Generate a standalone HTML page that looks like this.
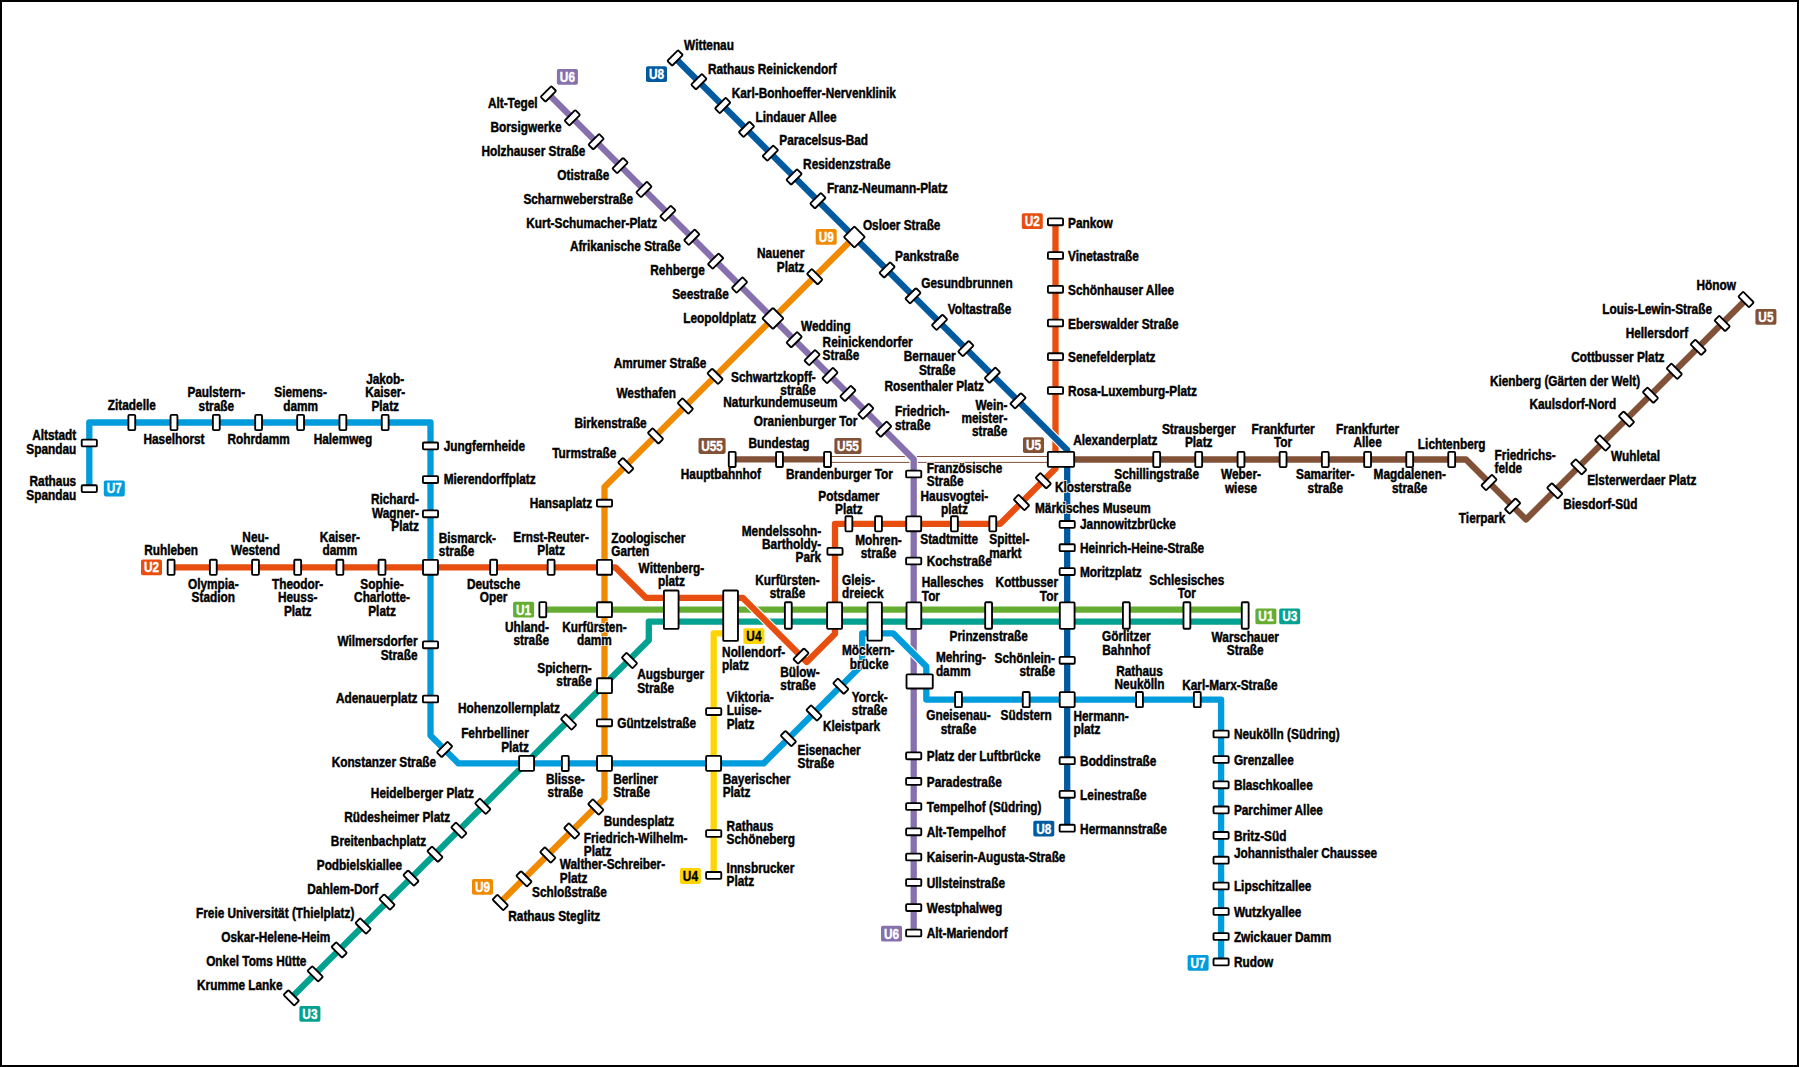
<!DOCTYPE html>
<html><head><meta charset="utf-8"><title>Berlin U-Bahn</title>
<style>
html,body{margin:0;padding:0;background:#fff;}
body{width:1799px;height:1067px;overflow:hidden;}
svg{display:block;}
text{font-family:"Liberation Sans",sans-serif;font-weight:bold;font-size:14px;fill:#000;stroke:#000;stroke-width:0.45px;}
.halo text{fill:#fff;stroke:#fff;stroke-width:2.2px;stroke-linejoin:round;}
</style></head><body>
<svg width="1799" height="1067" viewBox="0 0 1799 1067">
<rect x="1" y="1" width="1797" height="1065" fill="#fff" stroke="#000" stroke-width="2"/>
<rect x="827" y="456.5" width="222" height="5.9" fill="#fff" stroke="#815238" stroke-width="1.0"/>
<path d="M1061.00 459.50 L1466.00 459.50 L1526.00 519.50 L1746.10 299.40" stroke="#fff" stroke-width="8.50" fill="none" stroke-linejoin="round" stroke-linecap="butt"/>
<path d="M1061.00 459.50 L1466.00 459.50 L1526.00 519.50 L1746.10 299.40" stroke="#815238" stroke-width="6.30" fill="none" stroke-linejoin="round" stroke-linecap="butt"/>
<path d="M732.20 459.40 L827.50 459.40" stroke="#fff" stroke-width="8.50" fill="none" stroke-linejoin="round" stroke-linecap="butt"/>
<path d="M732.20 459.40 L827.50 459.40" stroke="#815238" stroke-width="6.30" fill="none" stroke-linejoin="round" stroke-linecap="butt"/>
<path d="M730.00 633.30 L713.70 633.30 L713.70 875.40" stroke="#fff" stroke-width="8.50" fill="none" stroke-linejoin="round" stroke-linecap="butt"/>
<path d="M730.00 633.30 L713.70 633.30 L713.70 875.40" stroke="#FFD403" stroke-width="6.30" fill="none" stroke-linejoin="round" stroke-linecap="butt"/>
<path d="M854.40 237.00 L604.50 486.90 L604.50 798.30 L500.30 902.50" stroke="#fff" stroke-width="8.50" fill="none" stroke-linejoin="round" stroke-linecap="butt"/>
<path d="M854.40 237.00 L604.50 486.90 L604.50 798.30 L500.30 902.50" stroke="#F08A00" stroke-width="6.30" fill="none" stroke-linejoin="round" stroke-linecap="butt"/>
<path d="M542.80 609.70 L1245.20 609.70" stroke="#fff" stroke-width="8.50" fill="none" stroke-linejoin="round" stroke-linecap="butt"/>
<path d="M542.80 609.70 L1245.20 609.70" stroke="#64AD30" stroke-width="6.30" fill="none" stroke-linejoin="round" stroke-linecap="butt"/>
<path d="M291.30 997.80 L648.80 640.30 L648.80 621.60 L1245.20 621.60" stroke="#fff" stroke-width="8.50" fill="none" stroke-linejoin="round" stroke-linecap="butt"/>
<path d="M291.30 997.80 L648.80 640.30 L648.80 621.60 L1245.20 621.60" stroke="#02A190" stroke-width="6.30" fill="none" stroke-linejoin="round" stroke-linecap="butt"/>
<path d="M548.40 93.90 L913.70 459.20 L913.70 933.00" stroke="#fff" stroke-width="8.50" fill="none" stroke-linejoin="round" stroke-linecap="butt"/>
<path d="M548.40 93.90 L913.70 459.20 L913.70 933.00" stroke="#8670AD" stroke-width="6.30" fill="none" stroke-linejoin="round" stroke-linecap="butt"/>
<path d="M171.10 567.30 L615.30 567.30 L645.80 597.80 L742.70 597.80 L806.80 661.90 L835.00 633.70 L835.00 523.80 L1000.20 523.80 L1055.50 468.50 L1055.50 221.80" stroke="#fff" stroke-width="8.50" fill="none" stroke-linejoin="round" stroke-linecap="butt"/>
<path d="M171.10 567.30 L615.30 567.30 L645.80 597.80 L742.70 597.80 L806.80 661.90 L835.00 633.70 L835.00 523.80 L1000.20 523.80 L1055.50 468.50 L1055.50 221.80" stroke="#E84E0F" stroke-width="6.30" fill="none" stroke-linejoin="round" stroke-linecap="butt"/>
<path d="M675.10 57.90 L1067.20 450.00 L1067.20 828.20" stroke="#fff" stroke-width="8.50" fill="none" stroke-linejoin="round" stroke-linecap="butt"/>
<path d="M675.10 57.90 L1067.20 450.00 L1067.20 828.20" stroke="#005AA0" stroke-width="6.30" fill="none" stroke-linejoin="round" stroke-linecap="butt"/>
<path d="M89.30 488.70 L89.30 422.50 L430.50 422.50 L430.50 735.40 L458.50 763.40 L763.60 763.40 L862.20 664.80 L862.20 633.30 L893.10 633.30 L926.30 666.50 L926.30 699.60 L1221.10 699.60 L1221.10 961.90" stroke="#fff" stroke-width="8.50" fill="none" stroke-linejoin="round" stroke-linecap="butt"/>
<path d="M89.30 488.70 L89.30 422.50 L430.50 422.50 L430.50 735.40 L458.50 763.40 L763.60 763.40 L862.20 664.80 L862.20 633.30 L893.10 633.30 L926.30 666.50 L926.30 699.60 L1221.10 699.60 L1221.10 961.90" stroke="#009CDB" stroke-width="6.30" fill="none" stroke-linejoin="round" stroke-linecap="butt"/>
<g class="halo"><g transform="translate(76.20 440.30) scale(0.845 1)"><text text-anchor="end"><tspan x="0" dy="0">Altstadt</tspan><tspan x="0" dy="13.4">Spandau</tspan></text></g>
<g transform="translate(76.20 486.40) scale(0.845 1)"><text text-anchor="end"><tspan x="0" dy="0">Rathaus</tspan><tspan x="0" dy="13.4">Spandau</tspan></text></g>
<g transform="translate(131.80 410.40) scale(0.845 1)"><text text-anchor="middle"><tspan x="0" dy="0">Zitadelle</tspan></text></g>
<g transform="translate(174.00 443.70) scale(0.845 1)"><text text-anchor="middle"><tspan x="0" dy="0">Haselhorst</tspan></text></g>
<g transform="translate(216.30 397.20) scale(0.845 1)"><text text-anchor="middle"><tspan x="0" dy="0">Paulstern-</tspan><tspan x="0" dy="13.4">straße</tspan></text></g>
<g transform="translate(258.60 443.70) scale(0.845 1)"><text text-anchor="middle"><tspan x="0" dy="0">Rohrdamm</tspan></text></g>
<g transform="translate(300.60 397.20) scale(0.845 1)"><text text-anchor="middle"><tspan x="0" dy="0">Siemens-</tspan><tspan x="0" dy="13.4">damm</tspan></text></g>
<g transform="translate(342.90 443.70) scale(0.845 1)"><text text-anchor="middle"><tspan x="0" dy="0">Halemweg</tspan></text></g>
<g transform="translate(385.20 383.80) scale(0.845 1)"><text text-anchor="middle"><tspan x="0" dy="0">Jakob-</tspan><tspan x="0" dy="13.4">Kaiser-</tspan><tspan x="0" dy="13.4">Platz</tspan></text></g>
<g transform="translate(443.70 450.50) scale(0.845 1)"><text text-anchor="start"><tspan x="0" dy="0">Jungfernheide</tspan></text></g>
<g transform="translate(443.70 484.20) scale(0.845 1)"><text text-anchor="start"><tspan x="0" dy="0">Mierendorffplatz</tspan></text></g>
<g transform="translate(418.90 504.40) scale(0.845 1)"><text text-anchor="end"><tspan x="0" dy="0">Richard-</tspan><tspan x="0" dy="13.4">Wagner-</tspan><tspan x="0" dy="13.4">Platz</tspan></text></g>
<g transform="translate(417.50 646.20) scale(0.845 1)"><text text-anchor="end"><tspan x="0" dy="0">Wilmersdorfer</tspan><tspan x="0" dy="13.4">Straße</tspan></text></g>
<g transform="translate(417.50 702.90) scale(0.845 1)"><text text-anchor="end"><tspan x="0" dy="0">Adenauerplatz</tspan></text></g>
<g transform="translate(436.10 766.50) scale(0.845 1)"><text text-anchor="end"><tspan x="0" dy="0">Konstanzer Straße</tspan></text></g>
<g transform="translate(528.80 738.40) scale(0.845 1)"><text text-anchor="end"><tspan x="0" dy="0">Fehrbelliner</tspan><tspan x="0" dy="13.4">Platz</tspan></text></g>
<g transform="translate(565.30 784.00) scale(0.845 1)"><text text-anchor="middle"><tspan x="0" dy="0">Blisse-</tspan><tspan x="0" dy="13.4">straße</tspan></text></g>
<g transform="translate(613.20 784.00) scale(0.845 1)"><text text-anchor="start"><tspan x="0" dy="0">Berliner</tspan><tspan x="0" dy="13.4">Straße</tspan></text></g>
<g transform="translate(722.70 784.00) scale(0.845 1)"><text text-anchor="start"><tspan x="0" dy="0">Bayerischer</tspan><tspan x="0" dy="13.4">Platz</tspan></text></g>
<g transform="translate(797.50 755.00) scale(0.845 1)"><text text-anchor="start"><tspan x="0" dy="0">Eisenacher</tspan><tspan x="0" dy="13.4">Straße</tspan></text></g>
<g transform="translate(822.90 730.80) scale(0.845 1)"><text text-anchor="start"><tspan x="0" dy="0">Kleistpark</tspan></text></g>
<g transform="translate(851.80 701.90) scale(0.845 1)"><text text-anchor="start"><tspan x="0" dy="0">Yorck-</tspan><tspan x="0" dy="13.4">straße</tspan></text></g>
<g transform="translate(842.00 655.20) scale(0.845 1)"><text text-anchor="start"><tspan x="0" dy="0">Möckern-</tspan></text></g>
<g transform="translate(849.80 668.70) scale(0.845 1)"><text text-anchor="start"><tspan x="0" dy="0">brücke</tspan></text></g>
<g transform="translate(935.90 662.20) scale(0.845 1)"><text text-anchor="start"><tspan x="0" dy="0">Mehring-</tspan><tspan x="0" dy="13.4">damm</tspan></text></g>
<g transform="translate(958.50 720.20) scale(0.845 1)"><text text-anchor="middle"><tspan x="0" dy="0">Gneisenau-</tspan><tspan x="0" dy="13.4">straße</tspan></text></g>
<g transform="translate(1026.20 720.20) scale(0.845 1)"><text text-anchor="middle"><tspan x="0" dy="0">Südstern</tspan></text></g>
<g transform="translate(1073.50 721.00) scale(0.845 1)"><text text-anchor="start"><tspan x="0" dy="0">Hermann-</tspan><tspan x="0" dy="13.4">platz</tspan></text></g>
<g transform="translate(1139.50 675.60) scale(0.845 1)"><text text-anchor="middle"><tspan x="0" dy="0">Rathaus</tspan><tspan x="0" dy="13.4">Neukölln</tspan></text></g>
<g transform="translate(1182.20 689.90) scale(0.845 1)"><text text-anchor="start"><tspan x="0" dy="0">Karl-Marx-Straße</tspan></text></g>
<g transform="translate(1233.90 739.40) scale(0.845 1)"><text text-anchor="start"><tspan x="0" dy="0">Neukölln (Südring)</tspan></text></g>
<g transform="translate(1233.90 764.90) scale(0.845 1)"><text text-anchor="start"><tspan x="0" dy="0">Grenzallee</tspan></text></g>
<g transform="translate(1233.90 790.20) scale(0.845 1)"><text text-anchor="start"><tspan x="0" dy="0">Blaschkoallee</tspan></text></g>
<g transform="translate(1233.90 815.30) scale(0.845 1)"><text text-anchor="start"><tspan x="0" dy="0">Parchimer Allee</tspan></text></g>
<g transform="translate(1233.90 840.80) scale(0.845 1)"><text text-anchor="start"><tspan x="0" dy="0">Britz-Süd</tspan></text></g>
<g transform="translate(1233.90 891.40) scale(0.845 1)"><text text-anchor="start"><tspan x="0" dy="0">Lipschitzallee</tspan></text></g>
<g transform="translate(1233.90 916.90) scale(0.845 1)"><text text-anchor="start"><tspan x="0" dy="0">Wutzkyallee</tspan></text></g>
<g transform="translate(1233.90 941.90) scale(0.845 1)"><text text-anchor="start"><tspan x="0" dy="0">Zwickauer Damm</tspan></text></g>
<g transform="translate(1233.90 967.30) scale(0.845 1)"><text text-anchor="start"><tspan x="0" dy="0">Rudow</tspan></text></g>
<g transform="translate(1233.90 858.20) scale(0.845 1)"><text text-anchor="start"><tspan x="0" dy="0">Johannisthaler Chaussee</tspan></text></g>
<g transform="translate(171.10 555.00) scale(0.845 1)"><text text-anchor="middle"><tspan x="0" dy="0">Ruhleben</tspan></text></g>
<g transform="translate(213.30 588.80) scale(0.845 1)"><text text-anchor="middle"><tspan x="0" dy="0">Olympia-</tspan><tspan x="0" dy="13.4">Stadion</tspan></text></g>
<g transform="translate(255.50 542.00) scale(0.845 1)"><text text-anchor="middle"><tspan x="0" dy="0">Neu-</tspan><tspan x="0" dy="13.4">Westend</tspan></text></g>
<g transform="translate(297.70 588.80) scale(0.845 1)"><text text-anchor="middle"><tspan x="0" dy="0">Theodor-</tspan><tspan x="0" dy="13.4">Heuss-</tspan><tspan x="0" dy="13.4">Platz</tspan></text></g>
<g transform="translate(339.90 542.00) scale(0.845 1)"><text text-anchor="middle"><tspan x="0" dy="0">Kaiser-</tspan><tspan x="0" dy="13.4">damm</tspan></text></g>
<g transform="translate(382.00 588.80) scale(0.845 1)"><text text-anchor="middle"><tspan x="0" dy="0">Sophie-</tspan><tspan x="0" dy="13.4">Charlotte-</tspan><tspan x="0" dy="13.4">Platz</tspan></text></g>
<g transform="translate(438.80 542.60) scale(0.845 1)"><text text-anchor="start"><tspan x="0" dy="0">Bismarck-</tspan><tspan x="0" dy="13.4">straße</tspan></text></g>
<g transform="translate(493.60 588.80) scale(0.845 1)"><text text-anchor="middle"><tspan x="0" dy="0">Deutsche</tspan><tspan x="0" dy="13.4">Oper</tspan></text></g>
<g transform="translate(551.10 541.70) scale(0.845 1)"><text text-anchor="middle"><tspan x="0" dy="0">Ernst-Reuter-</tspan><tspan x="0" dy="13.4">Platz</tspan></text></g>
<g transform="translate(611.20 542.60) scale(0.845 1)"><text text-anchor="start"><tspan x="0" dy="0">Zoologischer</tspan><tspan x="0" dy="13.4">Garten</tspan></text></g>
<g transform="translate(671.40 573.00) scale(0.845 1)"><text text-anchor="middle"><tspan x="0" dy="0">Wittenberg-</tspan><tspan x="0" dy="13.4">platz</tspan></text></g>
<g transform="translate(722.10 656.60) scale(0.845 1)"><text text-anchor="start"><tspan x="0" dy="0">Nollendorf-</tspan><tspan x="0" dy="13.4">platz</tspan></text></g>
<g transform="translate(780.30 677.00) scale(0.845 1)"><text text-anchor="start"><tspan x="0" dy="0">Bülow-</tspan><tspan x="0" dy="13.4">straße</tspan></text></g>
<g transform="translate(787.50 584.90) scale(0.845 1)"><text text-anchor="middle"><tspan x="0" dy="0">Kurfürsten-</tspan><tspan x="0" dy="13.4">straße</tspan></text></g>
<g transform="translate(842.10 585.10) scale(0.845 1)"><text text-anchor="start"><tspan x="0" dy="0">Gleis-</tspan><tspan x="0" dy="13.4">dreieck</tspan></text></g>
<g transform="translate(821.20 535.60) scale(0.845 1)"><text text-anchor="end"><tspan x="0" dy="0">Mendelssohn-</tspan><tspan x="0" dy="13.4">Bartholdy-</tspan><tspan x="0" dy="13.4">Park</tspan></text></g>
<g transform="translate(848.90 500.70) scale(0.845 1)"><text text-anchor="middle"><tspan x="0" dy="0">Potsdamer</tspan><tspan x="0" dy="13.4">Platz</tspan></text></g>
<g transform="translate(878.50 544.60) scale(0.845 1)"><text text-anchor="middle"><tspan x="0" dy="0">Mohren-</tspan><tspan x="0" dy="13.4">straße</tspan></text></g>
<g transform="translate(920.30 544.40) scale(0.845 1)"><text text-anchor="start"><tspan x="0" dy="0">Stadtmitte</tspan></text></g>
<g transform="translate(954.40 500.60) scale(0.845 1)"><text text-anchor="middle"><tspan x="0" dy="0">Hausvogtei-</tspan><tspan x="0" dy="13.4">platz</tspan></text></g>
<g transform="translate(989.30 544.40) scale(0.845 1)"><text text-anchor="start"><tspan x="0" dy="0">Spittel-</tspan><tspan x="0" dy="13.4">markt</tspan></text></g>
<g transform="translate(1035.00 512.90) scale(0.845 1)"><text text-anchor="start"><tspan x="0" dy="0">Märkisches Museum</tspan></text></g>
<g transform="translate(1055.00 491.60) scale(0.845 1)"><text text-anchor="start"><tspan x="0" dy="0">Klosterstraße</tspan></text></g>
<g transform="translate(1073.20 445.20) scale(0.845 1)"><text text-anchor="start"><tspan x="0" dy="0">Alexanderplatz</tspan></text></g>
<g transform="translate(1068.10 227.50) scale(0.845 1)"><text text-anchor="start"><tspan x="0" dy="0">Pankow</tspan></text></g>
<g transform="translate(1068.10 261.20) scale(0.845 1)"><text text-anchor="start"><tspan x="0" dy="0">Vinetastraße</tspan></text></g>
<g transform="translate(1068.10 295.00) scale(0.845 1)"><text text-anchor="start"><tspan x="0" dy="0">Schönhauser Allee</tspan></text></g>
<g transform="translate(1068.10 328.70) scale(0.845 1)"><text text-anchor="start"><tspan x="0" dy="0">Eberswalder Straße</tspan></text></g>
<g transform="translate(1068.10 362.40) scale(0.845 1)"><text text-anchor="start"><tspan x="0" dy="0">Senefelderplatz</tspan></text></g>
<g transform="translate(1068.10 396.20) scale(0.845 1)"><text text-anchor="start"><tspan x="0" dy="0">Rosa-Luxemburg-Platz</tspan></text></g>
<g transform="translate(549.00 631.80) scale(0.845 1)"><text text-anchor="end"><tspan x="0" dy="0">Uhland-</tspan><tspan x="0" dy="13.4">straße</tspan></text></g>
<g transform="translate(594.40 631.80) scale(0.845 1)"><text text-anchor="middle"><tspan x="0" dy="0">Kurfürsten-</tspan><tspan x="0" dy="13.4">damm</tspan></text></g>
<g transform="translate(921.80 587.20) scale(0.845 1)"><text text-anchor="start"><tspan x="0" dy="0">Hallesches</tspan><tspan x="0" dy="13.4">Tor</tspan></text></g>
<g transform="translate(988.70 641.30) scale(0.845 1)"><text text-anchor="middle"><tspan x="0" dy="0">Prinzenstraße</tspan></text></g>
<g transform="translate(1058.00 587.20) scale(0.845 1)"><text text-anchor="end"><tspan x="0" dy="0">Kottbusser</tspan><tspan x="0" dy="13.4">Tor</tspan></text></g>
<g transform="translate(1126.30 641.20) scale(0.845 1)"><text text-anchor="middle"><tspan x="0" dy="0">Görlitzer</tspan><tspan x="0" dy="13.4">Bahnhof</tspan></text></g>
<g transform="translate(1186.80 584.50) scale(0.845 1)"><text text-anchor="middle"><tspan x="0" dy="0">Schlesisches</tspan><tspan x="0" dy="13.4">Tor</tspan></text></g>
<g transform="translate(1245.20 641.70) scale(0.845 1)"><text text-anchor="middle"><tspan x="0" dy="0">Warschauer</tspan><tspan x="0" dy="13.4">Straße</tspan></text></g>
<g transform="translate(637.20 679.40) scale(0.845 1)"><text text-anchor="start"><tspan x="0" dy="0">Augsburger</tspan><tspan x="0" dy="13.4">Straße</tspan></text></g>
<g transform="translate(591.80 672.70) scale(0.845 1)"><text text-anchor="end"><tspan x="0" dy="0">Spichern-</tspan><tspan x="0" dy="13.4">straße</tspan></text></g>
<g transform="translate(559.90 713.20) scale(0.845 1)"><text text-anchor="end"><tspan x="0" dy="0">Hohenzollernplatz</tspan></text></g>
<g transform="translate(282.50 989.90) scale(0.845 1)"><text text-anchor="end"><tspan x="0" dy="0">Krumme Lanke</tspan></text></g>
<g transform="translate(306.44 965.96) scale(0.845 1)"><text text-anchor="end"><tspan x="0" dy="0">Onkel Toms Hütte</tspan></text></g>
<g transform="translate(330.38 942.02) scale(0.845 1)"><text text-anchor="end"><tspan x="0" dy="0">Oskar-Helene-Heim</tspan></text></g>
<g transform="translate(354.32 918.08) scale(0.845 1)"><text text-anchor="end"><tspan x="0" dy="0">Freie Universität (Thielplatz)</tspan></text></g>
<g transform="translate(378.26 894.14) scale(0.845 1)"><text text-anchor="end"><tspan x="0" dy="0">Dahlem-Dorf</tspan></text></g>
<g transform="translate(402.20 870.20) scale(0.845 1)"><text text-anchor="end"><tspan x="0" dy="0">Podbielskiallee</tspan></text></g>
<g transform="translate(426.14 846.26) scale(0.845 1)"><text text-anchor="end"><tspan x="0" dy="0">Breitenbachplatz</tspan></text></g>
<g transform="translate(450.08 822.32) scale(0.845 1)"><text text-anchor="end"><tspan x="0" dy="0">Rüdesheimer Platz</tspan></text></g>
<g transform="translate(474.02 798.38) scale(0.845 1)"><text text-anchor="end"><tspan x="0" dy="0">Heidelberger Platz</tspan></text></g>
<g transform="translate(726.70 701.90) scale(0.845 1)"><text text-anchor="start"><tspan x="0" dy="0">Viktoria-</tspan><tspan x="0" dy="13.4">Luise-</tspan><tspan x="0" dy="13.4">Platz</tspan></text></g>
<g transform="translate(726.60 831.10) scale(0.845 1)"><text text-anchor="start"><tspan x="0" dy="0">Rathaus</tspan><tspan x="0" dy="13.4">Schöneberg</tspan></text></g>
<g transform="translate(726.60 873.00) scale(0.845 1)"><text text-anchor="start"><tspan x="0" dy="0">Innsbrucker</tspan><tspan x="0" dy="13.4">Platz</tspan></text></g>
<g transform="translate(1198.70 434.00) scale(0.845 1)"><text text-anchor="middle"><tspan x="0" dy="0">Strausberger</tspan><tspan x="0" dy="13.4">Platz</tspan></text></g>
<g transform="translate(1156.70 479.20) scale(0.845 1)"><text text-anchor="middle"><tspan x="0" dy="0">Schillingstraße</tspan></text></g>
<g transform="translate(1241.00 479.20) scale(0.845 1)"><text text-anchor="middle"><tspan x="0" dy="0">Weber-</tspan><tspan x="0" dy="13.4">wiese</tspan></text></g>
<g transform="translate(1283.10 434.00) scale(0.845 1)"><text text-anchor="middle"><tspan x="0" dy="0">Frankfurter</tspan><tspan x="0" dy="13.4">Tor</tspan></text></g>
<g transform="translate(1325.30 479.20) scale(0.845 1)"><text text-anchor="middle"><tspan x="0" dy="0">Samariter-</tspan><tspan x="0" dy="13.4">straße</tspan></text></g>
<g transform="translate(1367.60 434.00) scale(0.845 1)"><text text-anchor="middle"><tspan x="0" dy="0">Frankfurter</tspan><tspan x="0" dy="13.4">Allee</tspan></text></g>
<g transform="translate(1409.70 479.20) scale(0.845 1)"><text text-anchor="middle"><tspan x="0" dy="0">Magdalenen-</tspan><tspan x="0" dy="13.4">straße</tspan></text></g>
<g transform="translate(1451.70 448.90) scale(0.845 1)"><text text-anchor="middle"><tspan x="0" dy="0">Lichtenberg</tspan></text></g>
<g transform="translate(1494.60 460.10) scale(0.845 1)"><text text-anchor="start"><tspan x="0" dy="0">Friedrichs-</tspan><tspan x="0" dy="13.4">felde</tspan></text></g>
<g transform="translate(1505.30 522.80) scale(0.845 1)"><text text-anchor="end"><tspan x="0" dy="0">Tierpark</tspan></text></g>
<g transform="translate(1563.30 508.90) scale(0.845 1)"><text text-anchor="start"><tspan x="0" dy="0">Biesdorf-Süd</tspan></text></g>
<g transform="translate(1587.20 485.00) scale(0.845 1)"><text text-anchor="start"><tspan x="0" dy="0">Elsterwerdaer Platz</tspan></text></g>
<g transform="translate(1611.10 461.10) scale(0.845 1)"><text text-anchor="start"><tspan x="0" dy="0">Wuhletal</tspan></text></g>
<g transform="translate(1616.20 409.40) scale(0.845 1)"><text text-anchor="end"><tspan x="0" dy="0">Kaulsdorf-Nord</tspan></text></g>
<g transform="translate(1640.10 385.80) scale(0.845 1)"><text text-anchor="end"><tspan x="0" dy="0">Kienberg (Gärten der Welt)</tspan></text></g>
<g transform="translate(1664.50 361.90) scale(0.845 1)"><text text-anchor="end"><tspan x="0" dy="0">Cottbusser Platz</tspan></text></g>
<g transform="translate(1688.10 337.50) scale(0.845 1)"><text text-anchor="end"><tspan x="0" dy="0">Hellersdorf</tspan></text></g>
<g transform="translate(1712.00 314.40) scale(0.845 1)"><text text-anchor="end"><tspan x="0" dy="0">Louis-Lewin-Straße</tspan></text></g>
<g transform="translate(1735.90 290.00) scale(0.845 1)"><text text-anchor="end"><tspan x="0" dy="0">Hönow</tspan></text></g>
<g transform="translate(680.80 478.90) scale(0.845 1)"><text text-anchor="start"><tspan x="0" dy="0">Hauptbahnhof</tspan></text></g>
<g transform="translate(779.00 448.30) scale(0.845 1)"><text text-anchor="middle"><tspan x="0" dy="0">Bundestag</tspan></text></g>
<g transform="translate(786.00 478.90) scale(0.845 1)"><text text-anchor="start"><tspan x="0" dy="0">Brandenburger Tor</tspan></text></g>
<g transform="translate(537.60 108.10) scale(0.845 1)"><text text-anchor="end"><tspan x="0" dy="0">Alt-Tegel</tspan></text></g>
<g transform="translate(561.49 131.99) scale(0.845 1)"><text text-anchor="end"><tspan x="0" dy="0">Borsigwerke</tspan></text></g>
<g transform="translate(585.38 155.88) scale(0.845 1)"><text text-anchor="end"><tspan x="0" dy="0">Holzhauser Straße</tspan></text></g>
<g transform="translate(609.27 179.77) scale(0.845 1)"><text text-anchor="end"><tspan x="0" dy="0">Otistraße</tspan></text></g>
<g transform="translate(633.16 203.66) scale(0.845 1)"><text text-anchor="end"><tspan x="0" dy="0">Scharnweberstraße</tspan></text></g>
<g transform="translate(657.05 227.55) scale(0.845 1)"><text text-anchor="end"><tspan x="0" dy="0">Kurt-Schumacher-Platz</tspan></text></g>
<g transform="translate(680.94 251.44) scale(0.845 1)"><text text-anchor="end"><tspan x="0" dy="0">Afrikanische Straße</tspan></text></g>
<g transform="translate(704.83 275.33) scale(0.845 1)"><text text-anchor="end"><tspan x="0" dy="0">Rehberge</tspan></text></g>
<g transform="translate(728.72 299.22) scale(0.845 1)"><text text-anchor="end"><tspan x="0" dy="0">Seestraße</tspan></text></g>
<g transform="translate(756.20 322.60) scale(0.845 1)"><text text-anchor="end"><tspan x="0" dy="0">Leopoldplatz</tspan></text></g>
<g transform="translate(801.00 330.90) scale(0.845 1)"><text text-anchor="start"><tspan x="0" dy="0">Wedding</tspan></text></g>
<g transform="translate(822.60 346.70) scale(0.845 1)"><text text-anchor="start"><tspan x="0" dy="0">Reinickendorfer</tspan><tspan x="0" dy="13.4">Straße</tspan></text></g>
<g transform="translate(815.80 381.50) scale(0.845 1)"><text text-anchor="end"><tspan x="0" dy="0">Schwartzkopff-</tspan><tspan x="0" dy="13.4">straße</tspan></text></g>
<g transform="translate(837.60 407.40) scale(0.845 1)"><text text-anchor="end"><tspan x="0" dy="0">Naturkundemuseum</tspan></text></g>
<g transform="translate(857.40 426.00) scale(0.845 1)"><text text-anchor="end"><tspan x="0" dy="0">Oranienburger Tor</tspan></text></g>
<g transform="translate(895.00 416.40) scale(0.845 1)"><text text-anchor="start"><tspan x="0" dy="0">Friedrich-</tspan><tspan x="0" dy="13.4">straße</tspan></text></g>
<g transform="translate(926.80 473.10) scale(0.845 1)"><text text-anchor="start"><tspan x="0" dy="0">Französische</tspan><tspan x="0" dy="13.4">Straße</tspan></text></g>
<g transform="translate(926.80 565.80) scale(0.845 1)"><text text-anchor="start"><tspan x="0" dy="0">Kochstraße</tspan></text></g>
<g transform="translate(926.80 761.20) scale(0.845 1)"><text text-anchor="start"><tspan x="0" dy="0">Platz der Luftbrücke</tspan></text></g>
<g transform="translate(926.80 786.80) scale(0.845 1)"><text text-anchor="start"><tspan x="0" dy="0">Paradestraße</tspan></text></g>
<g transform="translate(926.80 811.90) scale(0.845 1)"><text text-anchor="start"><tspan x="0" dy="0">Tempelhof (Südring)</tspan></text></g>
<g transform="translate(926.80 837.20) scale(0.845 1)"><text text-anchor="start"><tspan x="0" dy="0">Alt-Tempelhof</tspan></text></g>
<g transform="translate(926.80 862.40) scale(0.845 1)"><text text-anchor="start"><tspan x="0" dy="0">Kaiserin-Augusta-Straße</tspan></text></g>
<g transform="translate(926.80 887.90) scale(0.845 1)"><text text-anchor="start"><tspan x="0" dy="0">Ullsteinstraße</tspan></text></g>
<g transform="translate(926.80 913.00) scale(0.845 1)"><text text-anchor="start"><tspan x="0" dy="0">Westphalweg</tspan></text></g>
<g transform="translate(926.80 938.40) scale(0.845 1)"><text text-anchor="start"><tspan x="0" dy="0">Alt-Mariendorf</tspan></text></g>
<g transform="translate(684.10 50.20) scale(0.845 1)"><text text-anchor="start"><tspan x="0" dy="0">Wittenau</tspan></text></g>
<g transform="translate(707.90 74.00) scale(0.845 1)"><text text-anchor="start"><tspan x="0" dy="0">Rathaus Reinickendorf</tspan></text></g>
<g transform="translate(731.70 97.80) scale(0.845 1)"><text text-anchor="start"><tspan x="0" dy="0">Karl-Bonhoeffer-Nervenklinik</tspan></text></g>
<g transform="translate(755.50 121.60) scale(0.845 1)"><text text-anchor="start"><tspan x="0" dy="0">Lindauer Allee</tspan></text></g>
<g transform="translate(779.30 145.40) scale(0.845 1)"><text text-anchor="start"><tspan x="0" dy="0">Paracelsus-Bad</tspan></text></g>
<g transform="translate(803.10 169.20) scale(0.845 1)"><text text-anchor="start"><tspan x="0" dy="0">Residenzstraße</tspan></text></g>
<g transform="translate(826.90 193.00) scale(0.845 1)"><text text-anchor="start"><tspan x="0" dy="0">Franz-Neumann-Platz</tspan></text></g>
<g transform="translate(862.90 229.50) scale(0.845 1)"><text text-anchor="start"><tspan x="0" dy="0">Osloer Straße</tspan></text></g>
<g transform="translate(895.00 261.20) scale(0.845 1)"><text text-anchor="start"><tspan x="0" dy="0">Pankstraße</tspan></text></g>
<g transform="translate(921.30 287.50) scale(0.845 1)"><text text-anchor="start"><tspan x="0" dy="0">Gesundbrunnen</tspan></text></g>
<g transform="translate(947.80 314.10) scale(0.845 1)"><text text-anchor="start"><tspan x="0" dy="0">Voltastraße</tspan></text></g>
<g transform="translate(955.70 361.30) scale(0.845 1)"><text text-anchor="end"><tspan x="0" dy="0">Bernauer</tspan><tspan x="0" dy="13.4">Straße</tspan></text></g>
<g transform="translate(983.80 390.50) scale(0.845 1)"><text text-anchor="end"><tspan x="0" dy="0">Rosenthaler Platz</tspan></text></g>
<g transform="translate(1007.40 409.60) scale(0.845 1)"><text text-anchor="end"><tspan x="0" dy="0">Wein-</tspan><tspan x="0" dy="13.4">meister-</tspan><tspan x="0" dy="13.4">straße</tspan></text></g>
<g transform="translate(1080.00 529.40) scale(0.845 1)"><text text-anchor="start"><tspan x="0" dy="0">Jannowitzbrücke</tspan></text></g>
<g transform="translate(1080.00 553.00) scale(0.845 1)"><text text-anchor="start"><tspan x="0" dy="0">Heinrich-Heine-Straße</tspan></text></g>
<g transform="translate(1080.00 577.00) scale(0.845 1)"><text text-anchor="start"><tspan x="0" dy="0">Moritzplatz</tspan></text></g>
<g transform="translate(1055.00 663.10) scale(0.845 1)"><text text-anchor="end"><tspan x="0" dy="0">Schönlein-</tspan><tspan x="0" dy="13.4">straße</tspan></text></g>
<g transform="translate(1080.10 766.10) scale(0.845 1)"><text text-anchor="start"><tspan x="0" dy="0">Boddinstraße</tspan></text></g>
<g transform="translate(1080.10 799.70) scale(0.845 1)"><text text-anchor="start"><tspan x="0" dy="0">Leinestraße</tspan></text></g>
<g transform="translate(1080.10 833.60) scale(0.845 1)"><text text-anchor="start"><tspan x="0" dy="0">Hermannstraße</tspan></text></g>
<g transform="translate(804.40 258.30) scale(0.845 1)"><text text-anchor="end"><tspan x="0" dy="0">Nauener</tspan><tspan x="0" dy="13.4">Platz</tspan></text></g>
<g transform="translate(706.30 368.40) scale(0.845 1)"><text text-anchor="end"><tspan x="0" dy="0">Amrumer Straße</tspan></text></g>
<g transform="translate(676.00 398.30) scale(0.845 1)"><text text-anchor="end"><tspan x="0" dy="0">Westhafen</tspan></text></g>
<g transform="translate(646.70 428.00) scale(0.845 1)"><text text-anchor="end"><tspan x="0" dy="0">Birkenstraße</tspan></text></g>
<g transform="translate(616.40 458.30) scale(0.845 1)"><text text-anchor="end"><tspan x="0" dy="0">Turmstraße</tspan></text></g>
<g transform="translate(592.10 507.80) scale(0.845 1)"><text text-anchor="end"><tspan x="0" dy="0">Hansaplatz</tspan></text></g>
<g transform="translate(617.20 727.80) scale(0.845 1)"><text text-anchor="start"><tspan x="0" dy="0">Güntzelstraße</tspan></text></g>
<g transform="translate(603.80 825.90) scale(0.845 1)"><text text-anchor="start"><tspan x="0" dy="0">Bundesplatz</tspan></text></g>
<g transform="translate(583.80 842.90) scale(0.845 1)"><text text-anchor="start"><tspan x="0" dy="0">Friedrich-Wilhelm-</tspan><tspan x="0" dy="13.4">Platz</tspan></text></g>
<g transform="translate(559.80 869.20) scale(0.845 1)"><text text-anchor="start"><tspan x="0" dy="0">Walther-Schreiber-</tspan><tspan x="0" dy="13.4">Platz</tspan></text></g>
<g transform="translate(532.00 897.00) scale(0.845 1)"><text text-anchor="start"><tspan x="0" dy="0">Schloßstraße</tspan></text></g>
<g transform="translate(508.30 920.60) scale(0.845 1)"><text text-anchor="start"><tspan x="0" dy="0">Rathaus Steglitz</tspan></text></g></g>
<rect x="81.72" y="485.27" width="15.15" height="6.85" rx="1.0" fill="#fff" stroke="#000" stroke-width="1.85"/>
<rect x="81.72" y="439.57" width="15.15" height="6.85" rx="1.0" fill="#fff" stroke="#000" stroke-width="1.85"/>
<rect x="128.38" y="414.93" width="6.85" height="15.15" rx="1.0" fill="#fff" stroke="#000" stroke-width="1.85"/>
<rect x="170.57" y="414.93" width="6.85" height="15.15" rx="1.0" fill="#fff" stroke="#000" stroke-width="1.85"/>
<rect x="212.88" y="414.93" width="6.85" height="15.15" rx="1.0" fill="#fff" stroke="#000" stroke-width="1.85"/>
<rect x="255.18" y="414.93" width="6.85" height="15.15" rx="1.0" fill="#fff" stroke="#000" stroke-width="1.85"/>
<rect x="297.18" y="414.93" width="6.85" height="15.15" rx="1.0" fill="#fff" stroke="#000" stroke-width="1.85"/>
<rect x="339.47" y="414.93" width="6.85" height="15.15" rx="1.0" fill="#fff" stroke="#000" stroke-width="1.85"/>
<rect x="381.77" y="414.93" width="6.85" height="15.15" rx="1.0" fill="#fff" stroke="#000" stroke-width="1.85"/>
<rect x="422.93" y="442.47" width="15.15" height="6.85" rx="1.0" fill="#fff" stroke="#000" stroke-width="1.85"/>
<rect x="422.93" y="476.18" width="15.15" height="6.85" rx="1.0" fill="#fff" stroke="#000" stroke-width="1.85"/>
<rect x="422.93" y="510.37" width="15.15" height="6.85" rx="1.0" fill="#fff" stroke="#000" stroke-width="1.85"/>
<rect x="422.93" y="641.38" width="15.15" height="6.85" rx="1.0" fill="#fff" stroke="#000" stroke-width="1.85"/>
<rect x="422.93" y="695.58" width="15.15" height="6.85" rx="1.0" fill="#fff" stroke="#000" stroke-width="1.85"/>
<rect x="441.18" y="741.82" width="6.85" height="15.15" rx="1.0" fill="#fff" stroke="#000" stroke-width="1.85" transform="rotate(45 444.60 749.40)"/>
<rect x="561.88" y="755.82" width="6.85" height="15.15" rx="1.0" fill="#fff" stroke="#000" stroke-width="1.85"/>
<rect x="784.98" y="731.02" width="6.85" height="15.15" rx="1.0" fill="#fff" stroke="#000" stroke-width="1.85" transform="rotate(-45 788.40 738.60)"/>
<rect x="810.58" y="705.42" width="6.85" height="15.15" rx="1.0" fill="#fff" stroke="#000" stroke-width="1.85" transform="rotate(-45 814.00 713.00)"/>
<rect x="837.38" y="678.62" width="6.85" height="15.15" rx="1.0" fill="#fff" stroke="#000" stroke-width="1.85" transform="rotate(-45 840.80 686.20)"/>
<rect x="955.08" y="692.02" width="6.85" height="15.15" rx="1.0" fill="#fff" stroke="#000" stroke-width="1.85"/>
<rect x="1022.78" y="692.02" width="6.85" height="15.15" rx="1.0" fill="#fff" stroke="#000" stroke-width="1.85"/>
<rect x="1136.08" y="692.02" width="6.85" height="15.15" rx="1.0" fill="#fff" stroke="#000" stroke-width="1.85"/>
<rect x="1193.88" y="692.02" width="6.85" height="15.15" rx="1.0" fill="#fff" stroke="#000" stroke-width="1.85"/>
<rect x="1213.52" y="730.58" width="15.15" height="6.85" rx="1.0" fill="#fff" stroke="#000" stroke-width="1.85"/>
<rect x="1213.52" y="756.08" width="15.15" height="6.85" rx="1.0" fill="#fff" stroke="#000" stroke-width="1.85"/>
<rect x="1213.52" y="781.38" width="15.15" height="6.85" rx="1.0" fill="#fff" stroke="#000" stroke-width="1.85"/>
<rect x="1213.52" y="806.48" width="15.15" height="6.85" rx="1.0" fill="#fff" stroke="#000" stroke-width="1.85"/>
<rect x="1213.52" y="831.98" width="15.15" height="6.85" rx="1.0" fill="#fff" stroke="#000" stroke-width="1.85"/>
<rect x="1213.52" y="856.78" width="15.15" height="6.85" rx="1.0" fill="#fff" stroke="#000" stroke-width="1.85"/>
<rect x="1213.52" y="882.58" width="15.15" height="6.85" rx="1.0" fill="#fff" stroke="#000" stroke-width="1.85"/>
<rect x="1213.52" y="908.08" width="15.15" height="6.85" rx="1.0" fill="#fff" stroke="#000" stroke-width="1.85"/>
<rect x="1213.52" y="933.08" width="15.15" height="6.85" rx="1.0" fill="#fff" stroke="#000" stroke-width="1.85"/>
<rect x="1213.52" y="958.48" width="15.15" height="6.85" rx="1.0" fill="#fff" stroke="#000" stroke-width="1.85"/>
<rect x="167.67" y="559.72" width="6.85" height="15.15" rx="1.0" fill="#fff" stroke="#000" stroke-width="1.85"/>
<rect x="209.88" y="559.72" width="6.85" height="15.15" rx="1.0" fill="#fff" stroke="#000" stroke-width="1.85"/>
<rect x="252.07" y="559.72" width="6.85" height="15.15" rx="1.0" fill="#fff" stroke="#000" stroke-width="1.85"/>
<rect x="294.27" y="559.72" width="6.85" height="15.15" rx="1.0" fill="#fff" stroke="#000" stroke-width="1.85"/>
<rect x="336.47" y="559.72" width="6.85" height="15.15" rx="1.0" fill="#fff" stroke="#000" stroke-width="1.85"/>
<rect x="378.57" y="559.72" width="6.85" height="15.15" rx="1.0" fill="#fff" stroke="#000" stroke-width="1.85"/>
<rect x="490.18" y="559.72" width="6.85" height="15.15" rx="1.0" fill="#fff" stroke="#000" stroke-width="1.85"/>
<rect x="547.68" y="559.72" width="6.85" height="15.15" rx="1.0" fill="#fff" stroke="#000" stroke-width="1.85"/>
<rect x="797.58" y="648.52" width="6.85" height="15.15" rx="1.0" fill="#fff" stroke="#000" stroke-width="1.85" transform="rotate(45 801.00 656.10)"/>
<rect x="827.42" y="547.88" width="15.15" height="6.85" rx="1.0" fill="#fff" stroke="#000" stroke-width="1.85"/>
<rect x="845.48" y="516.22" width="6.85" height="15.15" rx="1.0" fill="#fff" stroke="#000" stroke-width="1.85"/>
<rect x="875.08" y="516.22" width="6.85" height="15.15" rx="1.0" fill="#fff" stroke="#000" stroke-width="1.85"/>
<rect x="950.98" y="516.22" width="6.85" height="15.15" rx="1.0" fill="#fff" stroke="#000" stroke-width="1.85"/>
<rect x="989.38" y="516.22" width="6.85" height="15.15" rx="1.0" fill="#fff" stroke="#000" stroke-width="1.85"/>
<rect x="1018.08" y="494.93" width="6.85" height="15.15" rx="1.0" fill="#fff" stroke="#000" stroke-width="1.85" transform="rotate(-45 1021.50 502.50)"/>
<rect x="1039.88" y="473.12" width="6.85" height="15.15" rx="1.0" fill="#fff" stroke="#000" stroke-width="1.85" transform="rotate(-45 1043.30 480.70)"/>
<rect x="1047.92" y="218.38" width="15.15" height="6.85" rx="1.0" fill="#fff" stroke="#000" stroke-width="1.85"/>
<rect x="1047.92" y="252.07" width="15.15" height="6.85" rx="1.0" fill="#fff" stroke="#000" stroke-width="1.85"/>
<rect x="1047.92" y="285.88" width="15.15" height="6.85" rx="1.0" fill="#fff" stroke="#000" stroke-width="1.85"/>
<rect x="1047.92" y="319.57" width="15.15" height="6.85" rx="1.0" fill="#fff" stroke="#000" stroke-width="1.85"/>
<rect x="1047.92" y="353.27" width="15.15" height="6.85" rx="1.0" fill="#fff" stroke="#000" stroke-width="1.85"/>
<rect x="1047.92" y="387.07" width="15.15" height="6.85" rx="1.0" fill="#fff" stroke="#000" stroke-width="1.85"/>
<rect x="539.38" y="602.12" width="6.85" height="15.15" rx="1.0" fill="#fff" stroke="#000" stroke-width="1.85"/>
<rect x="663.92" y="590.53" width="14.65" height="38.35" rx="1.0" fill="#fff" stroke="#000" stroke-width="1.85"/>
<rect x="723.23" y="590.53" width="14.75" height="50.35" rx="1.0" fill="#fff" stroke="#000" stroke-width="1.85"/>
<rect x="784.88" y="602.23" width="6.85" height="26.55" rx="1.0" fill="#fff" stroke="#000" stroke-width="1.85"/>
<rect x="827.12" y="602.32" width="14.95" height="26.55" rx="1.0" fill="#fff" stroke="#000" stroke-width="1.85"/>
<rect x="867.53" y="602.32" width="14.35" height="38.35" rx="1.0" fill="#fff" stroke="#000" stroke-width="1.85"/>
<rect x="985.18" y="602.23" width="6.85" height="26.55" rx="1.0" fill="#fff" stroke="#000" stroke-width="1.85"/>
<rect x="1122.92" y="602.23" width="6.85" height="26.55" rx="1.0" fill="#fff" stroke="#000" stroke-width="1.85"/>
<rect x="1183.48" y="602.23" width="6.85" height="26.55" rx="1.0" fill="#fff" stroke="#000" stroke-width="1.85"/>
<rect x="1241.78" y="602.23" width="6.85" height="26.55" rx="1.0" fill="#fff" stroke="#000" stroke-width="1.85"/>
<rect x="626.08" y="652.92" width="6.85" height="15.15" rx="1.0" fill="#fff" stroke="#000" stroke-width="1.85" transform="rotate(-45 629.50 660.50)"/>
<rect x="565.18" y="714.42" width="6.85" height="15.15" rx="1.0" fill="#fff" stroke="#000" stroke-width="1.85" transform="rotate(-45 568.60 722.00)"/>
<rect x="479.40" y="798.70" width="6.85" height="15.15" rx="1.0" fill="#fff" stroke="#000" stroke-width="1.85" transform="rotate(-45 482.82 806.28)"/>
<rect x="455.45" y="822.64" width="6.85" height="15.15" rx="1.0" fill="#fff" stroke="#000" stroke-width="1.85" transform="rotate(-45 458.88 830.22)"/>
<rect x="431.52" y="846.58" width="6.85" height="15.15" rx="1.0" fill="#fff" stroke="#000" stroke-width="1.85" transform="rotate(-45 434.94 854.16)"/>
<rect x="407.57" y="870.52" width="6.85" height="15.15" rx="1.0" fill="#fff" stroke="#000" stroke-width="1.85" transform="rotate(-45 411.00 878.10)"/>
<rect x="383.63" y="894.46" width="6.85" height="15.15" rx="1.0" fill="#fff" stroke="#000" stroke-width="1.85" transform="rotate(-45 387.06 902.04)"/>
<rect x="359.69" y="918.40" width="6.85" height="15.15" rx="1.0" fill="#fff" stroke="#000" stroke-width="1.85" transform="rotate(-45 363.12 925.98)"/>
<rect x="335.75" y="942.34" width="6.85" height="15.15" rx="1.0" fill="#fff" stroke="#000" stroke-width="1.85" transform="rotate(-45 339.18 949.92)"/>
<rect x="311.81" y="966.28" width="6.85" height="15.15" rx="1.0" fill="#fff" stroke="#000" stroke-width="1.85" transform="rotate(-45 315.24 973.86)"/>
<rect x="287.88" y="990.22" width="6.85" height="15.15" rx="1.0" fill="#fff" stroke="#000" stroke-width="1.85" transform="rotate(-45 291.30 997.80)"/>
<rect x="706.12" y="708.18" width="15.15" height="6.85" rx="1.0" fill="#fff" stroke="#000" stroke-width="1.85"/>
<rect x="706.12" y="830.08" width="15.15" height="6.85" rx="1.0" fill="#fff" stroke="#000" stroke-width="1.85"/>
<rect x="706.12" y="871.98" width="15.15" height="6.85" rx="1.0" fill="#fff" stroke="#000" stroke-width="1.85"/>
<rect x="1153.28" y="451.93" width="6.85" height="15.15" rx="1.0" fill="#fff" stroke="#000" stroke-width="1.85"/>
<rect x="1195.28" y="451.93" width="6.85" height="15.15" rx="1.0" fill="#fff" stroke="#000" stroke-width="1.85"/>
<rect x="1237.58" y="451.93" width="6.85" height="15.15" rx="1.0" fill="#fff" stroke="#000" stroke-width="1.85"/>
<rect x="1279.67" y="451.93" width="6.85" height="15.15" rx="1.0" fill="#fff" stroke="#000" stroke-width="1.85"/>
<rect x="1321.88" y="451.93" width="6.85" height="15.15" rx="1.0" fill="#fff" stroke="#000" stroke-width="1.85"/>
<rect x="1364.17" y="451.93" width="6.85" height="15.15" rx="1.0" fill="#fff" stroke="#000" stroke-width="1.85"/>
<rect x="1406.28" y="451.93" width="6.85" height="15.15" rx="1.0" fill="#fff" stroke="#000" stroke-width="1.85"/>
<rect x="1448.28" y="451.93" width="6.85" height="15.15" rx="1.0" fill="#fff" stroke="#000" stroke-width="1.85"/>
<rect x="1485.58" y="474.93" width="6.85" height="15.15" rx="1.0" fill="#fff" stroke="#000" stroke-width="1.85" transform="rotate(45 1489.00 482.50)"/>
<rect x="1509.17" y="498.53" width="6.85" height="15.15" rx="1.0" fill="#fff" stroke="#000" stroke-width="1.85" transform="rotate(45 1512.60 506.10)"/>
<rect x="1551.38" y="483.22" width="6.85" height="15.15" rx="1.0" fill="#fff" stroke="#000" stroke-width="1.85" transform="rotate(-45 1554.80 490.80)"/>
<rect x="1575.29" y="459.31" width="6.85" height="15.15" rx="1.0" fill="#fff" stroke="#000" stroke-width="1.85" transform="rotate(-45 1578.71 466.89)"/>
<rect x="1599.19" y="435.41" width="6.85" height="15.15" rx="1.0" fill="#fff" stroke="#000" stroke-width="1.85" transform="rotate(-45 1602.62 442.98)"/>
<rect x="1623.11" y="411.49" width="6.85" height="15.15" rx="1.0" fill="#fff" stroke="#000" stroke-width="1.85" transform="rotate(-45 1626.53 419.07)"/>
<rect x="1647.02" y="387.58" width="6.85" height="15.15" rx="1.0" fill="#fff" stroke="#000" stroke-width="1.85" transform="rotate(-45 1650.44 395.16)"/>
<rect x="1670.92" y="363.68" width="6.85" height="15.15" rx="1.0" fill="#fff" stroke="#000" stroke-width="1.85" transform="rotate(-45 1674.35 371.25)"/>
<rect x="1694.84" y="339.76" width="6.85" height="15.15" rx="1.0" fill="#fff" stroke="#000" stroke-width="1.85" transform="rotate(-45 1698.26 347.34)"/>
<rect x="1718.75" y="315.85" width="6.85" height="15.15" rx="1.0" fill="#fff" stroke="#000" stroke-width="1.85" transform="rotate(-45 1722.17 323.43)"/>
<rect x="1742.65" y="291.94" width="6.85" height="15.15" rx="1.0" fill="#fff" stroke="#000" stroke-width="1.85" transform="rotate(-45 1746.08 299.52)"/>
<rect x="728.78" y="451.82" width="6.85" height="15.15" rx="1.0" fill="#fff" stroke="#000" stroke-width="1.85"/>
<rect x="776.08" y="451.82" width="6.85" height="15.15" rx="1.0" fill="#fff" stroke="#000" stroke-width="1.85"/>
<rect x="824.08" y="451.82" width="6.85" height="15.15" rx="1.0" fill="#fff" stroke="#000" stroke-width="1.85"/>
<rect x="544.98" y="86.32" width="6.85" height="15.15" rx="1.0" fill="#fff" stroke="#000" stroke-width="1.85" transform="rotate(45 548.40 93.90)"/>
<rect x="568.87" y="110.21" width="6.85" height="15.15" rx="1.0" fill="#fff" stroke="#000" stroke-width="1.85" transform="rotate(45 572.29 117.79)"/>
<rect x="592.75" y="134.10" width="6.85" height="15.15" rx="1.0" fill="#fff" stroke="#000" stroke-width="1.85" transform="rotate(45 596.18 141.68)"/>
<rect x="616.64" y="157.99" width="6.85" height="15.15" rx="1.0" fill="#fff" stroke="#000" stroke-width="1.85" transform="rotate(45 620.07 165.57)"/>
<rect x="640.54" y="181.89" width="6.85" height="15.15" rx="1.0" fill="#fff" stroke="#000" stroke-width="1.85" transform="rotate(45 643.96 189.46)"/>
<rect x="664.43" y="205.78" width="6.85" height="15.15" rx="1.0" fill="#fff" stroke="#000" stroke-width="1.85" transform="rotate(45 667.85 213.35)"/>
<rect x="688.32" y="229.67" width="6.85" height="15.15" rx="1.0" fill="#fff" stroke="#000" stroke-width="1.85" transform="rotate(45 691.74 237.24)"/>
<rect x="712.21" y="253.56" width="6.85" height="15.15" rx="1.0" fill="#fff" stroke="#000" stroke-width="1.85" transform="rotate(45 715.63 261.13)"/>
<rect x="736.10" y="277.44" width="6.85" height="15.15" rx="1.0" fill="#fff" stroke="#000" stroke-width="1.85" transform="rotate(45 739.52 285.02)"/>
<rect x="790.78" y="332.13" width="6.85" height="15.15" rx="1.0" fill="#fff" stroke="#000" stroke-width="1.85" transform="rotate(45 794.20 339.70)"/>
<rect x="808.68" y="350.03" width="6.85" height="15.15" rx="1.0" fill="#fff" stroke="#000" stroke-width="1.85" transform="rotate(45 812.10 357.60)"/>
<rect x="826.58" y="367.93" width="6.85" height="15.15" rx="1.0" fill="#fff" stroke="#000" stroke-width="1.85" transform="rotate(45 830.00 375.50)"/>
<rect x="844.48" y="385.83" width="6.85" height="15.15" rx="1.0" fill="#fff" stroke="#000" stroke-width="1.85" transform="rotate(45 847.90 393.40)"/>
<rect x="862.38" y="403.73" width="6.85" height="15.15" rx="1.0" fill="#fff" stroke="#000" stroke-width="1.85" transform="rotate(45 865.80 411.30)"/>
<rect x="880.28" y="421.63" width="6.85" height="15.15" rx="1.0" fill="#fff" stroke="#000" stroke-width="1.85" transform="rotate(45 883.70 429.20)"/>
<rect x="906.12" y="470.57" width="15.15" height="6.85" rx="1.0" fill="#fff" stroke="#000" stroke-width="1.85"/>
<rect x="906.12" y="557.58" width="15.15" height="6.85" rx="1.0" fill="#fff" stroke="#000" stroke-width="1.85"/>
<rect x="906.12" y="752.38" width="15.15" height="6.85" rx="1.0" fill="#fff" stroke="#000" stroke-width="1.85"/>
<rect x="906.12" y="777.98" width="15.15" height="6.85" rx="1.0" fill="#fff" stroke="#000" stroke-width="1.85"/>
<rect x="906.12" y="803.08" width="15.15" height="6.85" rx="1.0" fill="#fff" stroke="#000" stroke-width="1.85"/>
<rect x="906.12" y="828.38" width="15.15" height="6.85" rx="1.0" fill="#fff" stroke="#000" stroke-width="1.85"/>
<rect x="906.12" y="853.58" width="15.15" height="6.85" rx="1.0" fill="#fff" stroke="#000" stroke-width="1.85"/>
<rect x="906.12" y="879.08" width="15.15" height="6.85" rx="1.0" fill="#fff" stroke="#000" stroke-width="1.85"/>
<rect x="906.12" y="904.18" width="15.15" height="6.85" rx="1.0" fill="#fff" stroke="#000" stroke-width="1.85"/>
<rect x="906.12" y="929.58" width="15.15" height="6.85" rx="1.0" fill="#fff" stroke="#000" stroke-width="1.85"/>
<rect x="671.68" y="50.32" width="6.85" height="15.15" rx="1.0" fill="#fff" stroke="#000" stroke-width="1.85" transform="rotate(45 675.10 57.90)"/>
<rect x="695.48" y="74.12" width="6.85" height="15.15" rx="1.0" fill="#fff" stroke="#000" stroke-width="1.85" transform="rotate(45 698.90 81.70)"/>
<rect x="719.28" y="97.92" width="6.85" height="15.15" rx="1.0" fill="#fff" stroke="#000" stroke-width="1.85" transform="rotate(45 722.70 105.50)"/>
<rect x="743.08" y="121.72" width="6.85" height="15.15" rx="1.0" fill="#fff" stroke="#000" stroke-width="1.85" transform="rotate(45 746.50 129.30)"/>
<rect x="766.88" y="145.53" width="6.85" height="15.15" rx="1.0" fill="#fff" stroke="#000" stroke-width="1.85" transform="rotate(45 770.30 153.10)"/>
<rect x="790.68" y="169.32" width="6.85" height="15.15" rx="1.0" fill="#fff" stroke="#000" stroke-width="1.85" transform="rotate(45 794.10 176.90)"/>
<rect x="814.48" y="193.13" width="6.85" height="15.15" rx="1.0" fill="#fff" stroke="#000" stroke-width="1.85" transform="rotate(45 817.90 200.70)"/>
<rect x="883.68" y="262.32" width="6.85" height="15.15" rx="1.0" fill="#fff" stroke="#000" stroke-width="1.85" transform="rotate(45 887.10 269.90)"/>
<rect x="909.58" y="288.22" width="6.85" height="15.15" rx="1.0" fill="#fff" stroke="#000" stroke-width="1.85" transform="rotate(45 913.00 295.80)"/>
<rect x="936.08" y="314.72" width="6.85" height="15.15" rx="1.0" fill="#fff" stroke="#000" stroke-width="1.85" transform="rotate(45 939.50 322.30)"/>
<rect x="962.38" y="341.02" width="6.85" height="15.15" rx="1.0" fill="#fff" stroke="#000" stroke-width="1.85" transform="rotate(45 965.80 348.60)"/>
<rect x="988.98" y="367.62" width="6.85" height="15.15" rx="1.0" fill="#fff" stroke="#000" stroke-width="1.85" transform="rotate(45 992.40 375.20)"/>
<rect x="1014.58" y="393.22" width="6.85" height="15.15" rx="1.0" fill="#fff" stroke="#000" stroke-width="1.85" transform="rotate(45 1018.00 400.80)"/>
<rect x="1059.62" y="520.98" width="15.15" height="6.85" rx="1.0" fill="#fff" stroke="#000" stroke-width="1.85"/>
<rect x="1059.62" y="544.28" width="15.15" height="6.85" rx="1.0" fill="#fff" stroke="#000" stroke-width="1.85"/>
<rect x="1059.62" y="568.18" width="15.15" height="6.85" rx="1.0" fill="#fff" stroke="#000" stroke-width="1.85"/>
<rect x="1059.62" y="656.88" width="15.15" height="6.85" rx="1.0" fill="#fff" stroke="#000" stroke-width="1.85"/>
<rect x="1059.62" y="757.28" width="15.15" height="6.85" rx="1.0" fill="#fff" stroke="#000" stroke-width="1.85"/>
<rect x="1059.62" y="790.88" width="15.15" height="6.85" rx="1.0" fill="#fff" stroke="#000" stroke-width="1.85"/>
<rect x="1059.62" y="824.78" width="15.15" height="6.85" rx="1.0" fill="#fff" stroke="#000" stroke-width="1.85"/>
<rect x="811.28" y="269.13" width="6.85" height="15.15" rx="1.0" fill="#fff" stroke="#000" stroke-width="1.85" transform="rotate(-45 814.70 276.70)"/>
<rect x="711.68" y="368.73" width="6.85" height="15.15" rx="1.0" fill="#fff" stroke="#000" stroke-width="1.85" transform="rotate(-45 715.10 376.30)"/>
<rect x="681.98" y="398.43" width="6.85" height="15.15" rx="1.0" fill="#fff" stroke="#000" stroke-width="1.85" transform="rotate(-45 685.40 406.00)"/>
<rect x="652.08" y="428.33" width="6.85" height="15.15" rx="1.0" fill="#fff" stroke="#000" stroke-width="1.85" transform="rotate(-45 655.50 435.90)"/>
<rect x="622.38" y="458.03" width="6.85" height="15.15" rx="1.0" fill="#fff" stroke="#000" stroke-width="1.85" transform="rotate(-45 625.80 465.60)"/>
<rect x="596.92" y="499.77" width="15.15" height="6.85" rx="1.0" fill="#fff" stroke="#000" stroke-width="1.85"/>
<rect x="596.92" y="719.38" width="15.15" height="6.85" rx="1.0" fill="#fff" stroke="#000" stroke-width="1.85"/>
<rect x="592.38" y="799.42" width="6.85" height="15.15" rx="1.0" fill="#fff" stroke="#000" stroke-width="1.85" transform="rotate(-45 595.80 807.00)"/>
<rect x="568.38" y="823.42" width="6.85" height="15.15" rx="1.0" fill="#fff" stroke="#000" stroke-width="1.85" transform="rotate(-45 571.80 831.00)"/>
<rect x="544.38" y="847.42" width="6.85" height="15.15" rx="1.0" fill="#fff" stroke="#000" stroke-width="1.85" transform="rotate(-45 547.80 855.00)"/>
<rect x="520.58" y="871.22" width="6.85" height="15.15" rx="1.0" fill="#fff" stroke="#000" stroke-width="1.85" transform="rotate(-45 524.00 878.80)"/>
<rect x="496.88" y="894.92" width="6.85" height="15.15" rx="1.0" fill="#fff" stroke="#000" stroke-width="1.85" transform="rotate(-45 500.30 902.50)"/>
<rect x="423.02" y="559.82" width="14.95" height="14.95" rx="1.0" fill="#fff" stroke="#000" stroke-width="1.85"/>
<rect x="597.02" y="559.82" width="14.95" height="14.95" rx="1.0" fill="#fff" stroke="#000" stroke-width="1.85"/>
<rect x="597.02" y="602.23" width="14.95" height="14.95" rx="1.0" fill="#fff" stroke="#000" stroke-width="1.85"/>
<rect x="597.02" y="678.23" width="14.95" height="14.95" rx="1.0" fill="#fff" stroke="#000" stroke-width="1.85"/>
<rect x="519.12" y="755.92" width="14.95" height="14.95" rx="1.0" fill="#fff" stroke="#000" stroke-width="1.85"/>
<rect x="597.02" y="755.92" width="14.95" height="14.95" rx="1.0" fill="#fff" stroke="#000" stroke-width="1.85"/>
<rect x="706.12" y="755.92" width="14.95" height="14.95" rx="1.0" fill="#fff" stroke="#000" stroke-width="1.85"/>
<rect x="906.23" y="516.32" width="14.95" height="14.95" rx="1.0" fill="#fff" stroke="#000" stroke-width="1.85"/>
<rect x="1059.73" y="692.12" width="14.95" height="14.95" rx="1.0" fill="#fff" stroke="#000" stroke-width="1.85"/>
<rect x="846.92" y="229.53" width="14.95" height="14.95" rx="1.0" fill="#fff" stroke="#000" stroke-width="1.85" transform="rotate(45 854.40 237.00)"/>
<rect x="765.42" y="310.92" width="14.95" height="14.95" rx="1.0" fill="#fff" stroke="#000" stroke-width="1.85" transform="rotate(45 772.90 318.40)"/>
<rect x="906.52" y="602.32" width="14.75" height="26.55" rx="1.0" fill="#fff" stroke="#000" stroke-width="1.85"/>
<rect x="1059.82" y="602.32" width="14.75" height="26.55" rx="1.0" fill="#fff" stroke="#000" stroke-width="1.85"/>
<rect x="906.52" y="674.32" width="26.25" height="14.15" rx="1.0" fill="#fff" stroke="#000" stroke-width="1.85"/>
<rect x="1047.83" y="451.92" width="26.35" height="14.95" rx="1.0" fill="#fff" stroke="#000" stroke-width="1.85"/>
<rect x="103.8" y="480.6" width="21.0" height="15.8" rx="1.8" fill="#009CDB"/>
<g transform="translate(114.30 493.40) scale(0.845 1)"><text x="0" y="0" text-anchor="middle" style="fill:#fff;stroke:#fff;stroke-width:0.35px" font-size="14">U7</text></g>
<rect x="1187.6" y="954.9" width="21.0" height="15.8" rx="1.8" fill="#009CDB"/>
<g transform="translate(1198.10 967.70) scale(0.845 1)"><text x="0" y="0" text-anchor="middle" style="fill:#fff;stroke:#fff;stroke-width:0.35px" font-size="14">U7</text></g>
<rect x="141.0" y="559.5" width="21.0" height="15.8" rx="1.8" fill="#E84E0F"/>
<g transform="translate(151.50 572.30) scale(0.845 1)"><text x="0" y="0" text-anchor="middle" style="fill:#fff;stroke:#fff;stroke-width:0.35px" font-size="14">U2</text></g>
<rect x="1021.8" y="213.3" width="21.0" height="15.8" rx="1.8" fill="#E84E0F"/>
<g transform="translate(1032.30 226.10) scale(0.845 1)"><text x="0" y="0" text-anchor="middle" style="fill:#fff;stroke:#fff;stroke-width:0.35px" font-size="14">U2</text></g>
<rect x="513.1" y="601.8" width="21.0" height="15.8" rx="1.8" fill="#64AD30"/>
<g transform="translate(523.60 614.60) scale(0.845 1)"><text x="0" y="0" text-anchor="middle" style="fill:#fff;stroke:#fff;stroke-width:0.35px" font-size="14">U1</text></g>
<rect x="1255.4" y="608.5" width="21.0" height="15.8" rx="1.8" fill="#64AD30"/>
<g transform="translate(1265.90 621.30) scale(0.845 1)"><text x="0" y="0" text-anchor="middle" style="fill:#fff;stroke:#fff;stroke-width:0.35px" font-size="14">U1</text></g>
<rect x="1279.2" y="608.5" width="21.0" height="15.8" rx="1.8" fill="#02A190"/>
<g transform="translate(1289.70 621.30) scale(0.845 1)"><text x="0" y="0" text-anchor="middle" style="fill:#fff;stroke:#fff;stroke-width:0.35px" font-size="14">U3</text></g>
<rect x="299.4" y="1006.0" width="21.0" height="15.8" rx="1.8" fill="#02A190"/>
<g transform="translate(309.90 1018.80) scale(0.845 1)"><text x="0" y="0" text-anchor="middle" style="fill:#fff;stroke:#fff;stroke-width:0.35px" font-size="14">U3</text></g>
<rect x="743.4" y="628.2" width="21.0" height="15.8" rx="1.8" fill="#FFD403"/>
<g transform="translate(753.90 641.00) scale(0.845 1)"><text x="0" y="0" text-anchor="middle" style="fill:#000;stroke:#000;stroke-width:0.35px" font-size="14">U4</text></g>
<rect x="679.9" y="868.1" width="21.0" height="15.8" rx="1.8" fill="#FFD403"/>
<g transform="translate(690.40 880.90) scale(0.845 1)"><text x="0" y="0" text-anchor="middle" style="fill:#000;stroke:#000;stroke-width:0.35px" font-size="14">U4</text></g>
<rect x="1023.0" y="437.3" width="21.0" height="15.8" rx="1.8" fill="#815238"/>
<g transform="translate(1033.50 450.10) scale(0.845 1)"><text x="0" y="0" text-anchor="middle" style="fill:#fff;stroke:#fff;stroke-width:0.35px" font-size="14">U5</text></g>
<rect x="1755.4" y="309.0" width="21.0" height="15.8" rx="1.8" fill="#815238"/>
<g transform="translate(1765.90 321.80) scale(0.845 1)"><text x="0" y="0" text-anchor="middle" style="fill:#fff;stroke:#fff;stroke-width:0.35px" font-size="14">U5</text></g>
<rect x="556.9" y="69.0" width="21.0" height="15.8" rx="1.8" fill="#8670AD"/>
<g transform="translate(567.40 81.80) scale(0.845 1)"><text x="0" y="0" text-anchor="middle" style="fill:#fff;stroke:#fff;stroke-width:0.35px" font-size="14">U6</text></g>
<rect x="881.0" y="925.8" width="21.0" height="15.8" rx="1.8" fill="#8670AD"/>
<g transform="translate(891.50 938.60) scale(0.845 1)"><text x="0" y="0" text-anchor="middle" style="fill:#fff;stroke:#fff;stroke-width:0.35px" font-size="14">U6</text></g>
<rect x="646.0" y="66.3" width="21.0" height="15.8" rx="1.8" fill="#005AA0"/>
<g transform="translate(656.50 79.10) scale(0.845 1)"><text x="0" y="0" text-anchor="middle" style="fill:#fff;stroke:#fff;stroke-width:0.35px" font-size="14">U8</text></g>
<rect x="1033.3" y="820.7" width="21.0" height="15.8" rx="1.8" fill="#005AA0"/>
<g transform="translate(1043.80 833.50) scale(0.845 1)"><text x="0" y="0" text-anchor="middle" style="fill:#fff;stroke:#fff;stroke-width:0.35px" font-size="14">U8</text></g>
<rect x="815.7" y="229.0" width="21.0" height="15.8" rx="1.8" fill="#F08A00"/>
<g transform="translate(826.20 241.80) scale(0.845 1)"><text x="0" y="0" text-anchor="middle" style="fill:#fff;stroke:#fff;stroke-width:0.35px" font-size="14">U9</text></g>
<rect x="472.0" y="879.0" width="21.0" height="15.8" rx="1.8" fill="#F08A00"/>
<g transform="translate(482.50 891.80) scale(0.845 1)"><text x="0" y="0" text-anchor="middle" style="fill:#fff;stroke:#fff;stroke-width:0.35px" font-size="14">U9</text></g>
<rect x="698.5" y="438.1" width="27.1" height="15.8" rx="1.8" fill="#815238"/>
<g transform="translate(712.05 450.90) scale(0.845 1)"><text x="0" y="0" text-anchor="middle" style="fill:#fff;stroke:#fff;stroke-width:0.35px" font-size="14">U55</text></g>
<rect x="834.4" y="438.1" width="27.1" height="15.8" rx="1.8" fill="#815238"/>
<g transform="translate(847.95 450.90) scale(0.845 1)"><text x="0" y="0" text-anchor="middle" style="fill:#fff;stroke:#fff;stroke-width:0.35px" font-size="14">U55</text></g>
<g><g transform="translate(76.20 440.30) scale(0.845 1)"><text text-anchor="end"><tspan x="0" dy="0">Altstadt</tspan><tspan x="0" dy="13.4">Spandau</tspan></text></g>
<g transform="translate(76.20 486.40) scale(0.845 1)"><text text-anchor="end"><tspan x="0" dy="0">Rathaus</tspan><tspan x="0" dy="13.4">Spandau</tspan></text></g>
<g transform="translate(131.80 410.40) scale(0.845 1)"><text text-anchor="middle"><tspan x="0" dy="0">Zitadelle</tspan></text></g>
<g transform="translate(174.00 443.70) scale(0.845 1)"><text text-anchor="middle"><tspan x="0" dy="0">Haselhorst</tspan></text></g>
<g transform="translate(216.30 397.20) scale(0.845 1)"><text text-anchor="middle"><tspan x="0" dy="0">Paulstern-</tspan><tspan x="0" dy="13.4">straße</tspan></text></g>
<g transform="translate(258.60 443.70) scale(0.845 1)"><text text-anchor="middle"><tspan x="0" dy="0">Rohrdamm</tspan></text></g>
<g transform="translate(300.60 397.20) scale(0.845 1)"><text text-anchor="middle"><tspan x="0" dy="0">Siemens-</tspan><tspan x="0" dy="13.4">damm</tspan></text></g>
<g transform="translate(342.90 443.70) scale(0.845 1)"><text text-anchor="middle"><tspan x="0" dy="0">Halemweg</tspan></text></g>
<g transform="translate(385.20 383.80) scale(0.845 1)"><text text-anchor="middle"><tspan x="0" dy="0">Jakob-</tspan><tspan x="0" dy="13.4">Kaiser-</tspan><tspan x="0" dy="13.4">Platz</tspan></text></g>
<g transform="translate(443.70 450.50) scale(0.845 1)"><text text-anchor="start"><tspan x="0" dy="0">Jungfernheide</tspan></text></g>
<g transform="translate(443.70 484.20) scale(0.845 1)"><text text-anchor="start"><tspan x="0" dy="0">Mierendorffplatz</tspan></text></g>
<g transform="translate(418.90 504.40) scale(0.845 1)"><text text-anchor="end"><tspan x="0" dy="0">Richard-</tspan><tspan x="0" dy="13.4">Wagner-</tspan><tspan x="0" dy="13.4">Platz</tspan></text></g>
<g transform="translate(417.50 646.20) scale(0.845 1)"><text text-anchor="end"><tspan x="0" dy="0">Wilmersdorfer</tspan><tspan x="0" dy="13.4">Straße</tspan></text></g>
<g transform="translate(417.50 702.90) scale(0.845 1)"><text text-anchor="end"><tspan x="0" dy="0">Adenauerplatz</tspan></text></g>
<g transform="translate(436.10 766.50) scale(0.845 1)"><text text-anchor="end"><tspan x="0" dy="0">Konstanzer Straße</tspan></text></g>
<g transform="translate(528.80 738.40) scale(0.845 1)"><text text-anchor="end"><tspan x="0" dy="0">Fehrbelliner</tspan><tspan x="0" dy="13.4">Platz</tspan></text></g>
<g transform="translate(565.30 784.00) scale(0.845 1)"><text text-anchor="middle"><tspan x="0" dy="0">Blisse-</tspan><tspan x="0" dy="13.4">straße</tspan></text></g>
<g transform="translate(613.20 784.00) scale(0.845 1)"><text text-anchor="start"><tspan x="0" dy="0">Berliner</tspan><tspan x="0" dy="13.4">Straße</tspan></text></g>
<g transform="translate(722.70 784.00) scale(0.845 1)"><text text-anchor="start"><tspan x="0" dy="0">Bayerischer</tspan><tspan x="0" dy="13.4">Platz</tspan></text></g>
<g transform="translate(797.50 755.00) scale(0.845 1)"><text text-anchor="start"><tspan x="0" dy="0">Eisenacher</tspan><tspan x="0" dy="13.4">Straße</tspan></text></g>
<g transform="translate(822.90 730.80) scale(0.845 1)"><text text-anchor="start"><tspan x="0" dy="0">Kleistpark</tspan></text></g>
<g transform="translate(851.80 701.90) scale(0.845 1)"><text text-anchor="start"><tspan x="0" dy="0">Yorck-</tspan><tspan x="0" dy="13.4">straße</tspan></text></g>
<g transform="translate(842.00 655.20) scale(0.845 1)"><text text-anchor="start"><tspan x="0" dy="0">Möckern-</tspan></text></g>
<g transform="translate(849.80 668.70) scale(0.845 1)"><text text-anchor="start"><tspan x="0" dy="0">brücke</tspan></text></g>
<g transform="translate(935.90 662.20) scale(0.845 1)"><text text-anchor="start"><tspan x="0" dy="0">Mehring-</tspan><tspan x="0" dy="13.4">damm</tspan></text></g>
<g transform="translate(958.50 720.20) scale(0.845 1)"><text text-anchor="middle"><tspan x="0" dy="0">Gneisenau-</tspan><tspan x="0" dy="13.4">straße</tspan></text></g>
<g transform="translate(1026.20 720.20) scale(0.845 1)"><text text-anchor="middle"><tspan x="0" dy="0">Südstern</tspan></text></g>
<g transform="translate(1073.50 721.00) scale(0.845 1)"><text text-anchor="start"><tspan x="0" dy="0">Hermann-</tspan><tspan x="0" dy="13.4">platz</tspan></text></g>
<g transform="translate(1139.50 675.60) scale(0.845 1)"><text text-anchor="middle"><tspan x="0" dy="0">Rathaus</tspan><tspan x="0" dy="13.4">Neukölln</tspan></text></g>
<g transform="translate(1182.20 689.90) scale(0.845 1)"><text text-anchor="start"><tspan x="0" dy="0">Karl-Marx-Straße</tspan></text></g>
<g transform="translate(1233.90 739.40) scale(0.845 1)"><text text-anchor="start"><tspan x="0" dy="0">Neukölln (Südring)</tspan></text></g>
<g transform="translate(1233.90 764.90) scale(0.845 1)"><text text-anchor="start"><tspan x="0" dy="0">Grenzallee</tspan></text></g>
<g transform="translate(1233.90 790.20) scale(0.845 1)"><text text-anchor="start"><tspan x="0" dy="0">Blaschkoallee</tspan></text></g>
<g transform="translate(1233.90 815.30) scale(0.845 1)"><text text-anchor="start"><tspan x="0" dy="0">Parchimer Allee</tspan></text></g>
<g transform="translate(1233.90 840.80) scale(0.845 1)"><text text-anchor="start"><tspan x="0" dy="0">Britz-Süd</tspan></text></g>
<g transform="translate(1233.90 891.40) scale(0.845 1)"><text text-anchor="start"><tspan x="0" dy="0">Lipschitzallee</tspan></text></g>
<g transform="translate(1233.90 916.90) scale(0.845 1)"><text text-anchor="start"><tspan x="0" dy="0">Wutzkyallee</tspan></text></g>
<g transform="translate(1233.90 941.90) scale(0.845 1)"><text text-anchor="start"><tspan x="0" dy="0">Zwickauer Damm</tspan></text></g>
<g transform="translate(1233.90 967.30) scale(0.845 1)"><text text-anchor="start"><tspan x="0" dy="0">Rudow</tspan></text></g>
<g transform="translate(1233.90 858.20) scale(0.845 1)"><text text-anchor="start"><tspan x="0" dy="0">Johannisthaler Chaussee</tspan></text></g>
<g transform="translate(171.10 555.00) scale(0.845 1)"><text text-anchor="middle"><tspan x="0" dy="0">Ruhleben</tspan></text></g>
<g transform="translate(213.30 588.80) scale(0.845 1)"><text text-anchor="middle"><tspan x="0" dy="0">Olympia-</tspan><tspan x="0" dy="13.4">Stadion</tspan></text></g>
<g transform="translate(255.50 542.00) scale(0.845 1)"><text text-anchor="middle"><tspan x="0" dy="0">Neu-</tspan><tspan x="0" dy="13.4">Westend</tspan></text></g>
<g transform="translate(297.70 588.80) scale(0.845 1)"><text text-anchor="middle"><tspan x="0" dy="0">Theodor-</tspan><tspan x="0" dy="13.4">Heuss-</tspan><tspan x="0" dy="13.4">Platz</tspan></text></g>
<g transform="translate(339.90 542.00) scale(0.845 1)"><text text-anchor="middle"><tspan x="0" dy="0">Kaiser-</tspan><tspan x="0" dy="13.4">damm</tspan></text></g>
<g transform="translate(382.00 588.80) scale(0.845 1)"><text text-anchor="middle"><tspan x="0" dy="0">Sophie-</tspan><tspan x="0" dy="13.4">Charlotte-</tspan><tspan x="0" dy="13.4">Platz</tspan></text></g>
<g transform="translate(438.80 542.60) scale(0.845 1)"><text text-anchor="start"><tspan x="0" dy="0">Bismarck-</tspan><tspan x="0" dy="13.4">straße</tspan></text></g>
<g transform="translate(493.60 588.80) scale(0.845 1)"><text text-anchor="middle"><tspan x="0" dy="0">Deutsche</tspan><tspan x="0" dy="13.4">Oper</tspan></text></g>
<g transform="translate(551.10 541.70) scale(0.845 1)"><text text-anchor="middle"><tspan x="0" dy="0">Ernst-Reuter-</tspan><tspan x="0" dy="13.4">Platz</tspan></text></g>
<g transform="translate(611.20 542.60) scale(0.845 1)"><text text-anchor="start"><tspan x="0" dy="0">Zoologischer</tspan><tspan x="0" dy="13.4">Garten</tspan></text></g>
<g transform="translate(671.40 573.00) scale(0.845 1)"><text text-anchor="middle"><tspan x="0" dy="0">Wittenberg-</tspan><tspan x="0" dy="13.4">platz</tspan></text></g>
<g transform="translate(722.10 656.60) scale(0.845 1)"><text text-anchor="start"><tspan x="0" dy="0">Nollendorf-</tspan><tspan x="0" dy="13.4">platz</tspan></text></g>
<g transform="translate(780.30 677.00) scale(0.845 1)"><text text-anchor="start"><tspan x="0" dy="0">Bülow-</tspan><tspan x="0" dy="13.4">straße</tspan></text></g>
<g transform="translate(787.50 584.90) scale(0.845 1)"><text text-anchor="middle"><tspan x="0" dy="0">Kurfürsten-</tspan><tspan x="0" dy="13.4">straße</tspan></text></g>
<g transform="translate(842.10 585.10) scale(0.845 1)"><text text-anchor="start"><tspan x="0" dy="0">Gleis-</tspan><tspan x="0" dy="13.4">dreieck</tspan></text></g>
<g transform="translate(821.20 535.60) scale(0.845 1)"><text text-anchor="end"><tspan x="0" dy="0">Mendelssohn-</tspan><tspan x="0" dy="13.4">Bartholdy-</tspan><tspan x="0" dy="13.4">Park</tspan></text></g>
<g transform="translate(848.90 500.70) scale(0.845 1)"><text text-anchor="middle"><tspan x="0" dy="0">Potsdamer</tspan><tspan x="0" dy="13.4">Platz</tspan></text></g>
<g transform="translate(878.50 544.60) scale(0.845 1)"><text text-anchor="middle"><tspan x="0" dy="0">Mohren-</tspan><tspan x="0" dy="13.4">straße</tspan></text></g>
<g transform="translate(920.30 544.40) scale(0.845 1)"><text text-anchor="start"><tspan x="0" dy="0">Stadtmitte</tspan></text></g>
<g transform="translate(954.40 500.60) scale(0.845 1)"><text text-anchor="middle"><tspan x="0" dy="0">Hausvogtei-</tspan><tspan x="0" dy="13.4">platz</tspan></text></g>
<g transform="translate(989.30 544.40) scale(0.845 1)"><text text-anchor="start"><tspan x="0" dy="0">Spittel-</tspan><tspan x="0" dy="13.4">markt</tspan></text></g>
<g transform="translate(1035.00 512.90) scale(0.845 1)"><text text-anchor="start"><tspan x="0" dy="0">Märkisches Museum</tspan></text></g>
<g transform="translate(1055.00 491.60) scale(0.845 1)"><text text-anchor="start"><tspan x="0" dy="0">Klosterstraße</tspan></text></g>
<g transform="translate(1073.20 445.20) scale(0.845 1)"><text text-anchor="start"><tspan x="0" dy="0">Alexanderplatz</tspan></text></g>
<g transform="translate(1068.10 227.50) scale(0.845 1)"><text text-anchor="start"><tspan x="0" dy="0">Pankow</tspan></text></g>
<g transform="translate(1068.10 261.20) scale(0.845 1)"><text text-anchor="start"><tspan x="0" dy="0">Vinetastraße</tspan></text></g>
<g transform="translate(1068.10 295.00) scale(0.845 1)"><text text-anchor="start"><tspan x="0" dy="0">Schönhauser Allee</tspan></text></g>
<g transform="translate(1068.10 328.70) scale(0.845 1)"><text text-anchor="start"><tspan x="0" dy="0">Eberswalder Straße</tspan></text></g>
<g transform="translate(1068.10 362.40) scale(0.845 1)"><text text-anchor="start"><tspan x="0" dy="0">Senefelderplatz</tspan></text></g>
<g transform="translate(1068.10 396.20) scale(0.845 1)"><text text-anchor="start"><tspan x="0" dy="0">Rosa-Luxemburg-Platz</tspan></text></g>
<g transform="translate(549.00 631.80) scale(0.845 1)"><text text-anchor="end"><tspan x="0" dy="0">Uhland-</tspan><tspan x="0" dy="13.4">straße</tspan></text></g>
<g transform="translate(594.40 631.80) scale(0.845 1)"><text text-anchor="middle"><tspan x="0" dy="0">Kurfürsten-</tspan><tspan x="0" dy="13.4">damm</tspan></text></g>
<g transform="translate(921.80 587.20) scale(0.845 1)"><text text-anchor="start"><tspan x="0" dy="0">Hallesches</tspan><tspan x="0" dy="13.4">Tor</tspan></text></g>
<g transform="translate(988.70 641.30) scale(0.845 1)"><text text-anchor="middle"><tspan x="0" dy="0">Prinzenstraße</tspan></text></g>
<g transform="translate(1058.00 587.20) scale(0.845 1)"><text text-anchor="end"><tspan x="0" dy="0">Kottbusser</tspan><tspan x="0" dy="13.4">Tor</tspan></text></g>
<g transform="translate(1126.30 641.20) scale(0.845 1)"><text text-anchor="middle"><tspan x="0" dy="0">Görlitzer</tspan><tspan x="0" dy="13.4">Bahnhof</tspan></text></g>
<g transform="translate(1186.80 584.50) scale(0.845 1)"><text text-anchor="middle"><tspan x="0" dy="0">Schlesisches</tspan><tspan x="0" dy="13.4">Tor</tspan></text></g>
<g transform="translate(1245.20 641.70) scale(0.845 1)"><text text-anchor="middle"><tspan x="0" dy="0">Warschauer</tspan><tspan x="0" dy="13.4">Straße</tspan></text></g>
<g transform="translate(637.20 679.40) scale(0.845 1)"><text text-anchor="start"><tspan x="0" dy="0">Augsburger</tspan><tspan x="0" dy="13.4">Straße</tspan></text></g>
<g transform="translate(591.80 672.70) scale(0.845 1)"><text text-anchor="end"><tspan x="0" dy="0">Spichern-</tspan><tspan x="0" dy="13.4">straße</tspan></text></g>
<g transform="translate(559.90 713.20) scale(0.845 1)"><text text-anchor="end"><tspan x="0" dy="0">Hohenzollernplatz</tspan></text></g>
<g transform="translate(282.50 989.90) scale(0.845 1)"><text text-anchor="end"><tspan x="0" dy="0">Krumme Lanke</tspan></text></g>
<g transform="translate(306.44 965.96) scale(0.845 1)"><text text-anchor="end"><tspan x="0" dy="0">Onkel Toms Hütte</tspan></text></g>
<g transform="translate(330.38 942.02) scale(0.845 1)"><text text-anchor="end"><tspan x="0" dy="0">Oskar-Helene-Heim</tspan></text></g>
<g transform="translate(354.32 918.08) scale(0.845 1)"><text text-anchor="end"><tspan x="0" dy="0">Freie Universität (Thielplatz)</tspan></text></g>
<g transform="translate(378.26 894.14) scale(0.845 1)"><text text-anchor="end"><tspan x="0" dy="0">Dahlem-Dorf</tspan></text></g>
<g transform="translate(402.20 870.20) scale(0.845 1)"><text text-anchor="end"><tspan x="0" dy="0">Podbielskiallee</tspan></text></g>
<g transform="translate(426.14 846.26) scale(0.845 1)"><text text-anchor="end"><tspan x="0" dy="0">Breitenbachplatz</tspan></text></g>
<g transform="translate(450.08 822.32) scale(0.845 1)"><text text-anchor="end"><tspan x="0" dy="0">Rüdesheimer Platz</tspan></text></g>
<g transform="translate(474.02 798.38) scale(0.845 1)"><text text-anchor="end"><tspan x="0" dy="0">Heidelberger Platz</tspan></text></g>
<g transform="translate(726.70 701.90) scale(0.845 1)"><text text-anchor="start"><tspan x="0" dy="0">Viktoria-</tspan><tspan x="0" dy="13.4">Luise-</tspan><tspan x="0" dy="13.4">Platz</tspan></text></g>
<g transform="translate(726.60 831.10) scale(0.845 1)"><text text-anchor="start"><tspan x="0" dy="0">Rathaus</tspan><tspan x="0" dy="13.4">Schöneberg</tspan></text></g>
<g transform="translate(726.60 873.00) scale(0.845 1)"><text text-anchor="start"><tspan x="0" dy="0">Innsbrucker</tspan><tspan x="0" dy="13.4">Platz</tspan></text></g>
<g transform="translate(1198.70 434.00) scale(0.845 1)"><text text-anchor="middle"><tspan x="0" dy="0">Strausberger</tspan><tspan x="0" dy="13.4">Platz</tspan></text></g>
<g transform="translate(1156.70 479.20) scale(0.845 1)"><text text-anchor="middle"><tspan x="0" dy="0">Schillingstraße</tspan></text></g>
<g transform="translate(1241.00 479.20) scale(0.845 1)"><text text-anchor="middle"><tspan x="0" dy="0">Weber-</tspan><tspan x="0" dy="13.4">wiese</tspan></text></g>
<g transform="translate(1283.10 434.00) scale(0.845 1)"><text text-anchor="middle"><tspan x="0" dy="0">Frankfurter</tspan><tspan x="0" dy="13.4">Tor</tspan></text></g>
<g transform="translate(1325.30 479.20) scale(0.845 1)"><text text-anchor="middle"><tspan x="0" dy="0">Samariter-</tspan><tspan x="0" dy="13.4">straße</tspan></text></g>
<g transform="translate(1367.60 434.00) scale(0.845 1)"><text text-anchor="middle"><tspan x="0" dy="0">Frankfurter</tspan><tspan x="0" dy="13.4">Allee</tspan></text></g>
<g transform="translate(1409.70 479.20) scale(0.845 1)"><text text-anchor="middle"><tspan x="0" dy="0">Magdalenen-</tspan><tspan x="0" dy="13.4">straße</tspan></text></g>
<g transform="translate(1451.70 448.90) scale(0.845 1)"><text text-anchor="middle"><tspan x="0" dy="0">Lichtenberg</tspan></text></g>
<g transform="translate(1494.60 460.10) scale(0.845 1)"><text text-anchor="start"><tspan x="0" dy="0">Friedrichs-</tspan><tspan x="0" dy="13.4">felde</tspan></text></g>
<g transform="translate(1505.30 522.80) scale(0.845 1)"><text text-anchor="end"><tspan x="0" dy="0">Tierpark</tspan></text></g>
<g transform="translate(1563.30 508.90) scale(0.845 1)"><text text-anchor="start"><tspan x="0" dy="0">Biesdorf-Süd</tspan></text></g>
<g transform="translate(1587.20 485.00) scale(0.845 1)"><text text-anchor="start"><tspan x="0" dy="0">Elsterwerdaer Platz</tspan></text></g>
<g transform="translate(1611.10 461.10) scale(0.845 1)"><text text-anchor="start"><tspan x="0" dy="0">Wuhletal</tspan></text></g>
<g transform="translate(1616.20 409.40) scale(0.845 1)"><text text-anchor="end"><tspan x="0" dy="0">Kaulsdorf-Nord</tspan></text></g>
<g transform="translate(1640.10 385.80) scale(0.845 1)"><text text-anchor="end"><tspan x="0" dy="0">Kienberg (Gärten der Welt)</tspan></text></g>
<g transform="translate(1664.50 361.90) scale(0.845 1)"><text text-anchor="end"><tspan x="0" dy="0">Cottbusser Platz</tspan></text></g>
<g transform="translate(1688.10 337.50) scale(0.845 1)"><text text-anchor="end"><tspan x="0" dy="0">Hellersdorf</tspan></text></g>
<g transform="translate(1712.00 314.40) scale(0.845 1)"><text text-anchor="end"><tspan x="0" dy="0">Louis-Lewin-Straße</tspan></text></g>
<g transform="translate(1735.90 290.00) scale(0.845 1)"><text text-anchor="end"><tspan x="0" dy="0">Hönow</tspan></text></g>
<g transform="translate(680.80 478.90) scale(0.845 1)"><text text-anchor="start"><tspan x="0" dy="0">Hauptbahnhof</tspan></text></g>
<g transform="translate(779.00 448.30) scale(0.845 1)"><text text-anchor="middle"><tspan x="0" dy="0">Bundestag</tspan></text></g>
<g transform="translate(786.00 478.90) scale(0.845 1)"><text text-anchor="start"><tspan x="0" dy="0">Brandenburger Tor</tspan></text></g>
<g transform="translate(537.60 108.10) scale(0.845 1)"><text text-anchor="end"><tspan x="0" dy="0">Alt-Tegel</tspan></text></g>
<g transform="translate(561.49 131.99) scale(0.845 1)"><text text-anchor="end"><tspan x="0" dy="0">Borsigwerke</tspan></text></g>
<g transform="translate(585.38 155.88) scale(0.845 1)"><text text-anchor="end"><tspan x="0" dy="0">Holzhauser Straße</tspan></text></g>
<g transform="translate(609.27 179.77) scale(0.845 1)"><text text-anchor="end"><tspan x="0" dy="0">Otistraße</tspan></text></g>
<g transform="translate(633.16 203.66) scale(0.845 1)"><text text-anchor="end"><tspan x="0" dy="0">Scharnweberstraße</tspan></text></g>
<g transform="translate(657.05 227.55) scale(0.845 1)"><text text-anchor="end"><tspan x="0" dy="0">Kurt-Schumacher-Platz</tspan></text></g>
<g transform="translate(680.94 251.44) scale(0.845 1)"><text text-anchor="end"><tspan x="0" dy="0">Afrikanische Straße</tspan></text></g>
<g transform="translate(704.83 275.33) scale(0.845 1)"><text text-anchor="end"><tspan x="0" dy="0">Rehberge</tspan></text></g>
<g transform="translate(728.72 299.22) scale(0.845 1)"><text text-anchor="end"><tspan x="0" dy="0">Seestraße</tspan></text></g>
<g transform="translate(756.20 322.60) scale(0.845 1)"><text text-anchor="end"><tspan x="0" dy="0">Leopoldplatz</tspan></text></g>
<g transform="translate(801.00 330.90) scale(0.845 1)"><text text-anchor="start"><tspan x="0" dy="0">Wedding</tspan></text></g>
<g transform="translate(822.60 346.70) scale(0.845 1)"><text text-anchor="start"><tspan x="0" dy="0">Reinickendorfer</tspan><tspan x="0" dy="13.4">Straße</tspan></text></g>
<g transform="translate(815.80 381.50) scale(0.845 1)"><text text-anchor="end"><tspan x="0" dy="0">Schwartzkopff-</tspan><tspan x="0" dy="13.4">straße</tspan></text></g>
<g transform="translate(837.60 407.40) scale(0.845 1)"><text text-anchor="end"><tspan x="0" dy="0">Naturkundemuseum</tspan></text></g>
<g transform="translate(857.40 426.00) scale(0.845 1)"><text text-anchor="end"><tspan x="0" dy="0">Oranienburger Tor</tspan></text></g>
<g transform="translate(895.00 416.40) scale(0.845 1)"><text text-anchor="start"><tspan x="0" dy="0">Friedrich-</tspan><tspan x="0" dy="13.4">straße</tspan></text></g>
<g transform="translate(926.80 473.10) scale(0.845 1)"><text text-anchor="start"><tspan x="0" dy="0">Französische</tspan><tspan x="0" dy="13.4">Straße</tspan></text></g>
<g transform="translate(926.80 565.80) scale(0.845 1)"><text text-anchor="start"><tspan x="0" dy="0">Kochstraße</tspan></text></g>
<g transform="translate(926.80 761.20) scale(0.845 1)"><text text-anchor="start"><tspan x="0" dy="0">Platz der Luftbrücke</tspan></text></g>
<g transform="translate(926.80 786.80) scale(0.845 1)"><text text-anchor="start"><tspan x="0" dy="0">Paradestraße</tspan></text></g>
<g transform="translate(926.80 811.90) scale(0.845 1)"><text text-anchor="start"><tspan x="0" dy="0">Tempelhof (Südring)</tspan></text></g>
<g transform="translate(926.80 837.20) scale(0.845 1)"><text text-anchor="start"><tspan x="0" dy="0">Alt-Tempelhof</tspan></text></g>
<g transform="translate(926.80 862.40) scale(0.845 1)"><text text-anchor="start"><tspan x="0" dy="0">Kaiserin-Augusta-Straße</tspan></text></g>
<g transform="translate(926.80 887.90) scale(0.845 1)"><text text-anchor="start"><tspan x="0" dy="0">Ullsteinstraße</tspan></text></g>
<g transform="translate(926.80 913.00) scale(0.845 1)"><text text-anchor="start"><tspan x="0" dy="0">Westphalweg</tspan></text></g>
<g transform="translate(926.80 938.40) scale(0.845 1)"><text text-anchor="start"><tspan x="0" dy="0">Alt-Mariendorf</tspan></text></g>
<g transform="translate(684.10 50.20) scale(0.845 1)"><text text-anchor="start"><tspan x="0" dy="0">Wittenau</tspan></text></g>
<g transform="translate(707.90 74.00) scale(0.845 1)"><text text-anchor="start"><tspan x="0" dy="0">Rathaus Reinickendorf</tspan></text></g>
<g transform="translate(731.70 97.80) scale(0.845 1)"><text text-anchor="start"><tspan x="0" dy="0">Karl-Bonhoeffer-Nervenklinik</tspan></text></g>
<g transform="translate(755.50 121.60) scale(0.845 1)"><text text-anchor="start"><tspan x="0" dy="0">Lindauer Allee</tspan></text></g>
<g transform="translate(779.30 145.40) scale(0.845 1)"><text text-anchor="start"><tspan x="0" dy="0">Paracelsus-Bad</tspan></text></g>
<g transform="translate(803.10 169.20) scale(0.845 1)"><text text-anchor="start"><tspan x="0" dy="0">Residenzstraße</tspan></text></g>
<g transform="translate(826.90 193.00) scale(0.845 1)"><text text-anchor="start"><tspan x="0" dy="0">Franz-Neumann-Platz</tspan></text></g>
<g transform="translate(862.90 229.50) scale(0.845 1)"><text text-anchor="start"><tspan x="0" dy="0">Osloer Straße</tspan></text></g>
<g transform="translate(895.00 261.20) scale(0.845 1)"><text text-anchor="start"><tspan x="0" dy="0">Pankstraße</tspan></text></g>
<g transform="translate(921.30 287.50) scale(0.845 1)"><text text-anchor="start"><tspan x="0" dy="0">Gesundbrunnen</tspan></text></g>
<g transform="translate(947.80 314.10) scale(0.845 1)"><text text-anchor="start"><tspan x="0" dy="0">Voltastraße</tspan></text></g>
<g transform="translate(955.70 361.30) scale(0.845 1)"><text text-anchor="end"><tspan x="0" dy="0">Bernauer</tspan><tspan x="0" dy="13.4">Straße</tspan></text></g>
<g transform="translate(983.80 390.50) scale(0.845 1)"><text text-anchor="end"><tspan x="0" dy="0">Rosenthaler Platz</tspan></text></g>
<g transform="translate(1007.40 409.60) scale(0.845 1)"><text text-anchor="end"><tspan x="0" dy="0">Wein-</tspan><tspan x="0" dy="13.4">meister-</tspan><tspan x="0" dy="13.4">straße</tspan></text></g>
<g transform="translate(1080.00 529.40) scale(0.845 1)"><text text-anchor="start"><tspan x="0" dy="0">Jannowitzbrücke</tspan></text></g>
<g transform="translate(1080.00 553.00) scale(0.845 1)"><text text-anchor="start"><tspan x="0" dy="0">Heinrich-Heine-Straße</tspan></text></g>
<g transform="translate(1080.00 577.00) scale(0.845 1)"><text text-anchor="start"><tspan x="0" dy="0">Moritzplatz</tspan></text></g>
<g transform="translate(1055.00 663.10) scale(0.845 1)"><text text-anchor="end"><tspan x="0" dy="0">Schönlein-</tspan><tspan x="0" dy="13.4">straße</tspan></text></g>
<g transform="translate(1080.10 766.10) scale(0.845 1)"><text text-anchor="start"><tspan x="0" dy="0">Boddinstraße</tspan></text></g>
<g transform="translate(1080.10 799.70) scale(0.845 1)"><text text-anchor="start"><tspan x="0" dy="0">Leinestraße</tspan></text></g>
<g transform="translate(1080.10 833.60) scale(0.845 1)"><text text-anchor="start"><tspan x="0" dy="0">Hermannstraße</tspan></text></g>
<g transform="translate(804.40 258.30) scale(0.845 1)"><text text-anchor="end"><tspan x="0" dy="0">Nauener</tspan><tspan x="0" dy="13.4">Platz</tspan></text></g>
<g transform="translate(706.30 368.40) scale(0.845 1)"><text text-anchor="end"><tspan x="0" dy="0">Amrumer Straße</tspan></text></g>
<g transform="translate(676.00 398.30) scale(0.845 1)"><text text-anchor="end"><tspan x="0" dy="0">Westhafen</tspan></text></g>
<g transform="translate(646.70 428.00) scale(0.845 1)"><text text-anchor="end"><tspan x="0" dy="0">Birkenstraße</tspan></text></g>
<g transform="translate(616.40 458.30) scale(0.845 1)"><text text-anchor="end"><tspan x="0" dy="0">Turmstraße</tspan></text></g>
<g transform="translate(592.10 507.80) scale(0.845 1)"><text text-anchor="end"><tspan x="0" dy="0">Hansaplatz</tspan></text></g>
<g transform="translate(617.20 727.80) scale(0.845 1)"><text text-anchor="start"><tspan x="0" dy="0">Güntzelstraße</tspan></text></g>
<g transform="translate(603.80 825.90) scale(0.845 1)"><text text-anchor="start"><tspan x="0" dy="0">Bundesplatz</tspan></text></g>
<g transform="translate(583.80 842.90) scale(0.845 1)"><text text-anchor="start"><tspan x="0" dy="0">Friedrich-Wilhelm-</tspan><tspan x="0" dy="13.4">Platz</tspan></text></g>
<g transform="translate(559.80 869.20) scale(0.845 1)"><text text-anchor="start"><tspan x="0" dy="0">Walther-Schreiber-</tspan><tspan x="0" dy="13.4">Platz</tspan></text></g>
<g transform="translate(532.00 897.00) scale(0.845 1)"><text text-anchor="start"><tspan x="0" dy="0">Schloßstraße</tspan></text></g>
<g transform="translate(508.30 920.60) scale(0.845 1)"><text text-anchor="start"><tspan x="0" dy="0">Rathaus Steglitz</tspan></text></g></g>
</svg>
</body></html>
